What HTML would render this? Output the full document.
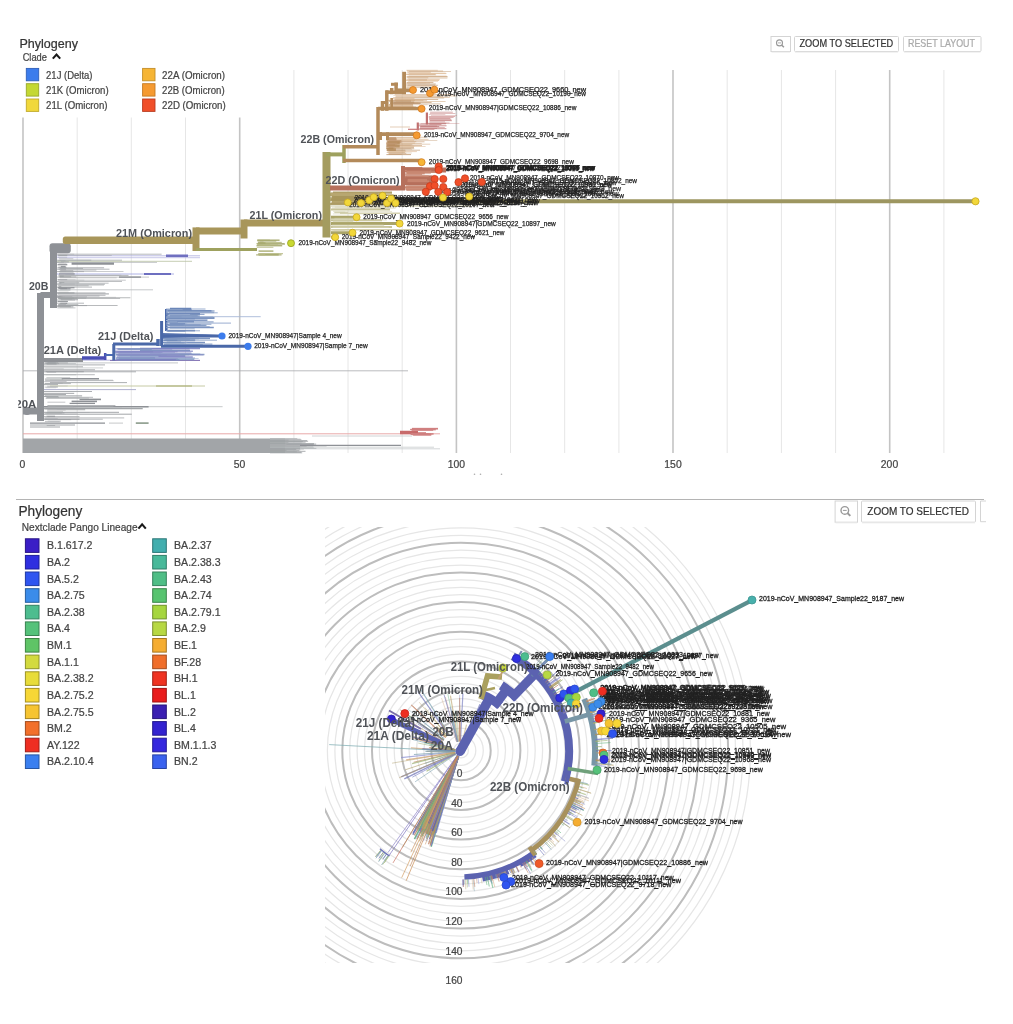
<!DOCTYPE html>
<html><head><meta charset="utf-8"><style>
html,body{margin:0;padding:0;background:#fff;width:1013px;height:1024px;overflow:hidden;position:relative}
svg text{font-family:"Liberation Sans",sans-serif}
svg{filter:blur(0.45px)}
</style></head><body>
<svg width="1013" height="1024" viewBox="0 0 1013 1024" style="position:absolute;left:0;top:0">
<line x1="23" y1="70" x2="23" y2="453" stroke="#c4c4c4" stroke-width="1.6"/>
<line x1="77.2" y1="70" x2="77.2" y2="453" stroke="#e6e6e6" stroke-width="1"/>
<line x1="131.3" y1="70" x2="131.3" y2="453" stroke="#e6e6e6" stroke-width="1"/>
<line x1="185.5" y1="70" x2="185.5" y2="453" stroke="#e6e6e6" stroke-width="1"/>
<line x1="239.7" y1="70" x2="239.7" y2="453" stroke="#c4c4c4" stroke-width="1.6"/>
<line x1="293.9" y1="70" x2="293.9" y2="453" stroke="#e6e6e6" stroke-width="1"/>
<line x1="348" y1="70" x2="348" y2="453" stroke="#e6e6e6" stroke-width="1"/>
<line x1="402.2" y1="70" x2="402.2" y2="453" stroke="#e6e6e6" stroke-width="1"/>
<line x1="456.4" y1="70" x2="456.4" y2="453" stroke="#c4c4c4" stroke-width="1.6"/>
<line x1="510.5" y1="70" x2="510.5" y2="453" stroke="#e6e6e6" stroke-width="1"/>
<line x1="564.7" y1="70" x2="564.7" y2="453" stroke="#e6e6e6" stroke-width="1"/>
<line x1="618.9" y1="70" x2="618.9" y2="453" stroke="#e6e6e6" stroke-width="1"/>
<line x1="673" y1="70" x2="673" y2="453" stroke="#c4c4c4" stroke-width="1.6"/>
<line x1="727.2" y1="70" x2="727.2" y2="453" stroke="#e6e6e6" stroke-width="1"/>
<line x1="781.4" y1="70" x2="781.4" y2="453" stroke="#e6e6e6" stroke-width="1"/>
<line x1="835.6" y1="70" x2="835.6" y2="453" stroke="#e6e6e6" stroke-width="1"/>
<line x1="889.7" y1="70" x2="889.7" y2="453" stroke="#c4c4c4" stroke-width="1.6"/>
<line x1="943.9" y1="70" x2="943.9" y2="453" stroke="#e6e6e6" stroke-width="1"/>
<rect x="18" y="66" width="255" height="51.5" fill="#fff"/>
<text x="19.5" y="47.6" font-size="12.8" fill="#333" textLength="58.5" lengthAdjust="spacingAndGlyphs" stroke="#333" stroke-width="0.22">Phylogeny</text>
<text x="22.7" y="61" font-size="10" fill="#444" textLength="24.2" lengthAdjust="spacingAndGlyphs" stroke="#444" stroke-width="0.22">Clade</text>
<path d="M52.8 58.6 L56.5 54.6 L60.2 58.6" fill="none" stroke="#1a1a1a" stroke-width="2.1"/>
<rect x="26.3" y="68.4" width="12.4" height="12.4" fill="#3c7cec" stroke="#2f5fb8" stroke-width="0.9"/>
<text x="46.1" y="78.5" font-size="10.2" fill="#444" textLength="46.4" lengthAdjust="spacingAndGlyphs" stroke="#444" stroke-width="0.22">21J (Delta)</text>
<rect x="26.3" y="83.7" width="12.4" height="12.4" fill="#c4d833" stroke="#98a82a" stroke-width="0.9"/>
<text x="46.1" y="93.8" font-size="10.2" fill="#444" textLength="62.5" lengthAdjust="spacingAndGlyphs" stroke="#444" stroke-width="0.22">21K (Omicron)</text>
<rect x="26.3" y="99" width="12.4" height="12.4" fill="#f1d83b" stroke="#c0aa2a" stroke-width="0.9"/>
<text x="46.1" y="109.1" font-size="10.2" fill="#444" textLength="61.4" lengthAdjust="spacingAndGlyphs" stroke="#444" stroke-width="0.22">21L (Omicron)</text>
<rect x="142.6" y="68.4" width="12.4" height="12.4" fill="#f6b535" stroke="#c48e28" stroke-width="0.9"/>
<text x="162.1" y="78.5" font-size="10.2" fill="#444" textLength="62.9" lengthAdjust="spacingAndGlyphs" stroke="#444" stroke-width="0.22">22A (Omicron)</text>
<rect x="142.6" y="83.7" width="12.4" height="12.4" fill="#f59a31" stroke="#c47a25" stroke-width="0.9"/>
<text x="162.1" y="93.8" font-size="10.2" fill="#444" textLength="62.5" lengthAdjust="spacingAndGlyphs" stroke="#444" stroke-width="0.22">22B (Omicron)</text>
<rect x="142.6" y="99" width="12.4" height="12.4" fill="#f04f29" stroke="#b83b20" stroke-width="0.9"/>
<text x="162.1" y="109.1" font-size="10.2" fill="#444" textLength="63.6" lengthAdjust="spacingAndGlyphs" stroke="#444" stroke-width="0.22">22D (Omicron)</text>
<rect x="771" y="36.5" width="19.5" height="15" fill="#fff" stroke="#d4d4d4" stroke-width="1"/>
<line x1="771.5" y1="52.2" x2="790" y2="52.2" stroke="#ececec" stroke-width="1"/>
<circle cx="779.5" cy="42.9" r="3" fill="none" stroke="#999" stroke-width="1.1"/>
<line x1="781.6" y1="45" x2="783.9" y2="47.3" stroke="#999" stroke-width="1.5"/>
<line x1="778" y1="42.9" x2="781" y2="42.9" stroke="#999" stroke-width="0.8"/>
<rect x="794.5" y="36.5" width="104" height="15" fill="#fff" stroke="#d4d4d4" stroke-width="1" rx="1"/>
<line x1="795" y1="52.2" x2="898" y2="52.2" stroke="#ececec" stroke-width="1"/>
<text x="799.5" y="47.2" font-size="10.4" fill="#333" textLength="93.7" lengthAdjust="spacingAndGlyphs" stroke="#333" stroke-width="0.22">ZOOM TO SELECTED</text>
<rect x="903.5" y="36.5" width="77.5" height="15" fill="#fff" stroke="#d4d4d4" stroke-width="1" rx="1"/>
<line x1="904" y1="52.2" x2="980.5" y2="52.2" stroke="#ececec" stroke-width="1"/>
<text x="908" y="47.2" font-size="10.4" fill="#aaa" textLength="67" lengthAdjust="spacingAndGlyphs" stroke="#aaa" stroke-width="0.22">RESET LAYOUT</text>
<rect x="23" y="438.5" width="262" height="14.5" fill="#a2a5a8"/>
<line x1="270" y1="438.7" x2="297.3" y2="438.7" stroke="#b2b5b8" stroke-width="0.9"/>
<line x1="270" y1="439.2" x2="300.5" y2="439.2" stroke="#b2b5b8" stroke-width="0.9"/>
<line x1="270" y1="439.7" x2="301.4" y2="439.7" stroke="#b2b5b8" stroke-width="0.9"/>
<line x1="270" y1="440.2" x2="288.6" y2="440.2" stroke="#a2a5a8" stroke-width="0.9"/>
<line x1="270" y1="440.7" x2="307" y2="440.7" stroke="#a2a5a8" stroke-width="0.9"/>
<line x1="270" y1="441.2" x2="308.1" y2="441.2" stroke="#a2a5a8" stroke-width="0.9"/>
<line x1="270" y1="441.6" x2="302.9" y2="441.6" stroke="#a2a5a8" stroke-width="0.9"/>
<line x1="270" y1="442.1" x2="305.6" y2="442.1" stroke="#a2a5a8" stroke-width="0.9"/>
<line x1="270" y1="442.6" x2="288.4" y2="442.6" stroke="#a2a5a8" stroke-width="0.9"/>
<line x1="270" y1="443.1" x2="301.6" y2="443.1" stroke="#b2b5b8" stroke-width="0.9"/>
<line x1="270" y1="443.6" x2="314" y2="443.6" stroke="#a2a5a8" stroke-width="0.9"/>
<line x1="270" y1="444.1" x2="316.2" y2="444.1" stroke="#a2a5a8" stroke-width="0.9"/>
<line x1="270" y1="444.5" x2="313.8" y2="444.5" stroke="#a2a5a8" stroke-width="0.9"/>
<line x1="270" y1="445" x2="286.6" y2="445" stroke="#b2b5b8" stroke-width="0.9"/>
<line x1="270" y1="445.5" x2="303.4" y2="445.5" stroke="#a2a5a8" stroke-width="0.9"/>
<line x1="270" y1="446" x2="326.6" y2="446" stroke="#b2b5b8" stroke-width="0.9"/>
<line x1="270" y1="446.5" x2="306.7" y2="446.5" stroke="#b2b5b8" stroke-width="0.9"/>
<line x1="270" y1="447" x2="313.3" y2="447" stroke="#a2a5a8" stroke-width="0.9"/>
<line x1="270" y1="447.4" x2="301.6" y2="447.4" stroke="#b2b5b8" stroke-width="0.9"/>
<line x1="270" y1="447.9" x2="314.1" y2="447.9" stroke="#b2b5b8" stroke-width="0.9"/>
<line x1="270" y1="448.4" x2="316.4" y2="448.4" stroke="#a2a5a8" stroke-width="0.9"/>
<line x1="270" y1="448.9" x2="303.9" y2="448.9" stroke="#a2a5a8" stroke-width="0.9"/>
<line x1="270" y1="449.4" x2="296.3" y2="449.4" stroke="#a2a5a8" stroke-width="0.9"/>
<line x1="270" y1="449.9" x2="300.3" y2="449.9" stroke="#a2a5a8" stroke-width="0.9"/>
<line x1="270" y1="450.3" x2="286.5" y2="450.3" stroke="#a2a5a8" stroke-width="0.9"/>
<line x1="270" y1="450.8" x2="299.2" y2="450.8" stroke="#a2a5a8" stroke-width="0.9"/>
<line x1="270" y1="451.3" x2="305.5" y2="451.3" stroke="#a2a5a8" stroke-width="0.9"/>
<line x1="270" y1="451.8" x2="296.8" y2="451.8" stroke="#a2a5a8" stroke-width="0.9"/>
<line x1="270" y1="452.3" x2="301.1" y2="452.3" stroke="#a2a5a8" stroke-width="0.9"/>
<line x1="270" y1="452.8" x2="302.2" y2="452.8" stroke="#a2a5a8" stroke-width="0.9"/>
<line x1="312" y1="436" x2="412" y2="436" stroke="#c4c6c9" stroke-width="0.8"/>
<line x1="300" y1="445.4" x2="401" y2="445.4" stroke="#8e9196" stroke-width="1.2"/>
<line x1="300" y1="447.2" x2="434" y2="447.2" stroke="#c8cacd" stroke-width="0.8"/>
<line x1="300" y1="448.8" x2="440" y2="448.8" stroke="#c8cacd" stroke-width="0.8"/>
<line x1="23" y1="433.8" x2="440" y2="433.8" stroke="#e8a8a8" stroke-width="1"/>
<line x1="400" y1="432.5" x2="418" y2="432.5" stroke="#c86b6b" stroke-width="3.5"/>
<line x1="411.5" y1="430" x2="433.2" y2="430" stroke="#d08080" stroke-width="1.6" opacity="1"/>
<line x1="413.3" y1="428.9" x2="425.2" y2="428.9" stroke="#d08080" stroke-width="1.5" opacity="1"/>
<line x1="412.2" y1="429.7" x2="435.8" y2="429.7" stroke="#d08080" stroke-width="1.3" opacity="1"/>
<line x1="410.6" y1="434.1" x2="428.5" y2="434.1" stroke="#d08080" stroke-width="1.7" opacity="1"/>
<line x1="413" y1="432.9" x2="426" y2="432.9" stroke="#c86b6b" stroke-width="1.2" opacity="1"/>
<line x1="411.9" y1="428.7" x2="438" y2="428.7" stroke="#d08080" stroke-width="1.7" opacity="1"/>
<line x1="413.2" y1="434.5" x2="430.9" y2="434.5" stroke="#d08080" stroke-width="2" opacity="1"/>
<line x1="410.1" y1="429.4" x2="430.5" y2="429.4" stroke="#d08080" stroke-width="1.1" opacity="1"/>
<line x1="412.5" y1="434.8" x2="431.5" y2="434.8" stroke="#d08080" stroke-width="1.3" opacity="1"/>
<line x1="412.1" y1="433.9" x2="433.6" y2="433.9" stroke="#d08080" stroke-width="1.5" opacity="1"/>
<line x1="23" y1="370.8" x2="408" y2="370.8" stroke="#a8abae" stroke-width="0.8"/>
<line x1="44" y1="360" x2="83" y2="360" stroke="#8e9196" stroke-width="3"/>
<line x1="83" y1="360.2" x2="200" y2="360.2" stroke="#a8a8d8" stroke-width="0.8"/>
<line x1="44" y1="362.9" x2="178" y2="362.9" stroke="#b8babd" stroke-width="0.8"/>
<line x1="44" y1="364.9" x2="105" y2="364.9" stroke="#a3a6a9" stroke-width="0.9"/>
<line x1="44" y1="366.8" x2="83" y2="366.8" stroke="#a3a6a9" stroke-width="0.9"/>
<line x1="44" y1="369.8" x2="95" y2="369.8" stroke="#a3a6a9" stroke-width="0.9"/>
<line x1="44" y1="371.8" x2="136" y2="371.8" stroke="#a3a6a9" stroke-width="0.9"/>
<line x1="44" y1="374.7" x2="76" y2="374.7" stroke="#a3a6a9" stroke-width="0.9"/>
<line x1="61.7" y1="378.7" x2="99" y2="378.7" stroke="#8e9196" stroke-width="1.6"/>
<line x1="50" y1="380.3" x2="113" y2="380.3" stroke="#a3a6a9" stroke-width="0.9"/>
<line x1="50" y1="382.6" x2="127" y2="382.6" stroke="#a3a6a9" stroke-width="0.9"/>
<line x1="44" y1="384.6" x2="58" y2="384.6" stroke="#a3a6a9" stroke-width="0.9"/>
<line x1="50" y1="386" x2="205" y2="386" stroke="#c0c49a" stroke-width="0.9"/>
<line x1="156" y1="386" x2="192" y2="386" stroke="#a8ac70" stroke-width="1.2"/>
<line x1="44" y1="389.6" x2="136" y2="389.6" stroke="#a6a8c8" stroke-width="0.9"/>
<line x1="44" y1="391.5" x2="92" y2="391.5" stroke="#a3a6a9" stroke-width="0.9"/>
<line x1="44" y1="394.5" x2="66" y2="394.5" stroke="#a3a6a9" stroke-width="0.9"/>
<line x1="44" y1="396.5" x2="58" y2="396.5" stroke="#a3a6a9" stroke-width="0.9"/>
<line x1="79.5" y1="399.4" x2="101" y2="399.4" stroke="#8e9196" stroke-width="1.6"/>
<line x1="71.6" y1="401.4" x2="97" y2="401.4" stroke="#8e9196" stroke-width="1.6"/>
<line x1="69.6" y1="403.4" x2="95" y2="403.4" stroke="#8e9196" stroke-width="1.3"/>
<line x1="44" y1="406.7" x2="222.6" y2="406.7" stroke="#b8babd" stroke-width="0.8"/>
<line x1="44" y1="406.7" x2="148.6" y2="406.7" stroke="#8e9196" stroke-width="1.6"/>
<line x1="44" y1="408.7" x2="142.7" y2="408.7" stroke="#a3a6a9" stroke-width="1.2"/>
<line x1="44" y1="412.3" x2="119" y2="412.3" stroke="#a3a6a9" stroke-width="1"/>
<line x1="44" y1="414.2" x2="131.8" y2="414.2" stroke="#a3a6a9" stroke-width="1"/>
<line x1="44" y1="416.8" x2="79.5" y2="416.8" stroke="#a3a6a9" stroke-width="1"/>
<line x1="44" y1="419.2" x2="79.5" y2="419.2" stroke="#a3a6a9" stroke-width="1"/>
<line x1="30" y1="423.1" x2="105" y2="423.1" stroke="#8e9196" stroke-width="1.2"/>
<line x1="109" y1="423.1" x2="123" y2="423.1" stroke="#b8babd" stroke-width="0.8"/>
<line x1="135.8" y1="423.1" x2="148.6" y2="423.1" stroke="#8a9a8a" stroke-width="1.6"/>
<line x1="30" y1="425" x2="75" y2="425" stroke="#a3a6a9" stroke-width="1"/>
<line x1="30" y1="427" x2="60" y2="427" stroke="#a3a6a9" stroke-width="1"/>
<line x1="44.7" y1="387.1" x2="57.8" y2="387.1" stroke="#b8babd" stroke-width="1" opacity="0.8"/>
<line x1="45.5" y1="407.5" x2="74" y2="407.5" stroke="#9c9fa3" stroke-width="1.1" opacity="0.8"/>
<line x1="48" y1="362.6" x2="58.3" y2="362.6" stroke="#a3a6a9" stroke-width="0.9" opacity="0.8"/>
<line x1="46.9" y1="372.2" x2="56.1" y2="372.2" stroke="#a3a6a9" stroke-width="0.8" opacity="0.8"/>
<line x1="44.5" y1="407.6" x2="76.4" y2="407.6" stroke="#9c9fa3" stroke-width="0.6" opacity="0.8"/>
<line x1="44.9" y1="419.2" x2="102.8" y2="419.2" stroke="#9c9fa3" stroke-width="0.9" opacity="0.8"/>
<line x1="44.1" y1="393.4" x2="74.2" y2="393.4" stroke="#a3a6a9" stroke-width="1.2" opacity="0.8"/>
<line x1="44.2" y1="407.5" x2="122" y2="407.5" stroke="#b8babd" stroke-width="0.8" opacity="0.8"/>
<line x1="45.7" y1="363.7" x2="75.9" y2="363.7" stroke="#a3a6a9" stroke-width="0.8" opacity="0.8"/>
<line x1="45.6" y1="371.6" x2="83.8" y2="371.6" stroke="#9c9fa3" stroke-width="1.1" opacity="0.8"/>
<line x1="44.3" y1="418.7" x2="57.8" y2="418.7" stroke="#a3a6a9" stroke-width="0.9" opacity="0.8"/>
<line x1="47" y1="410.1" x2="65.7" y2="410.1" stroke="#9c9fa3" stroke-width="0.6" opacity="0.8"/>
<line x1="44.7" y1="362.9" x2="67.9" y2="362.9" stroke="#a3a6a9" stroke-width="1.1" opacity="0.8"/>
<line x1="47.4" y1="409.5" x2="85.2" y2="409.5" stroke="#a3a6a9" stroke-width="1.3" opacity="0.8"/>
<line x1="45.7" y1="408.5" x2="109.8" y2="408.5" stroke="#9c9fa3" stroke-width="1.1" opacity="0.8"/>
<line x1="47.4" y1="402.2" x2="65.3" y2="402.2" stroke="#a3a6a9" stroke-width="0.8" opacity="0.8"/>
<line x1="46.9" y1="386" x2="67.7" y2="386" stroke="#b8babd" stroke-width="0.7" opacity="0.8"/>
<line x1="47.7" y1="406.1" x2="73.2" y2="406.1" stroke="#a3a6a9" stroke-width="0.8" opacity="0.8"/>
<line x1="47.7" y1="421.2" x2="60.9" y2="421.2" stroke="#b8babd" stroke-width="1.2" opacity="0.8"/>
<line x1="44.3" y1="381.5" x2="66.6" y2="381.5" stroke="#9c9fa3" stroke-width="0.7" opacity="0.8"/>
<line x1="46.7" y1="364" x2="56.6" y2="364" stroke="#a3a6a9" stroke-width="1.3" opacity="0.8"/>
<line x1="46" y1="398.1" x2="79.7" y2="398.1" stroke="#a3a6a9" stroke-width="0.8" opacity="0.8"/>
<line x1="48" y1="406.6" x2="55.6" y2="406.6" stroke="#9c9fa3" stroke-width="1.1" opacity="0.8"/>
<line x1="45.6" y1="374.7" x2="94.8" y2="374.7" stroke="#b8babd" stroke-width="1.2" opacity="0.8"/>
<line x1="46.4" y1="416.2" x2="55" y2="416.2" stroke="#a3a6a9" stroke-width="1" opacity="0.8"/>
<line x1="44.7" y1="395.9" x2="82.1" y2="395.9" stroke="#9c9fa3" stroke-width="1.3" opacity="0.8"/>
<line x1="46.7" y1="425.5" x2="55.1" y2="425.5" stroke="#9c9fa3" stroke-width="0.8" opacity="0.8"/>
<line x1="47.6" y1="407" x2="113.5" y2="407" stroke="#b8babd" stroke-width="0.8" opacity="0.8"/>
<line x1="44.9" y1="379.1" x2="63.3" y2="379.1" stroke="#a3a6a9" stroke-width="1.2" opacity="0.8"/>
<line x1="45.2" y1="380.4" x2="76.7" y2="380.4" stroke="#b8babd" stroke-width="1.1" opacity="0.8"/>
<line x1="46.4" y1="377.8" x2="70.2" y2="377.8" stroke="#a3a6a9" stroke-width="0.9" opacity="0.8"/>
<line x1="45" y1="421.6" x2="59.6" y2="421.6" stroke="#b8babd" stroke-width="1.3" opacity="0.8"/>
<line x1="47.3" y1="416.5" x2="55.1" y2="416.5" stroke="#9c9fa3" stroke-width="1.2" opacity="0.8"/>
<line x1="46.5" y1="397.3" x2="93" y2="397.3" stroke="#b8babd" stroke-width="1.2" opacity="0.8"/>
<line x1="44.7" y1="383.3" x2="62.7" y2="383.3" stroke="#a3a6a9" stroke-width="0.8" opacity="0.8"/>
<line x1="44.6" y1="419.6" x2="71.2" y2="419.6" stroke="#9c9fa3" stroke-width="1" opacity="0.8"/>
<line x1="47.4" y1="386.8" x2="57.9" y2="386.8" stroke="#9c9fa3" stroke-width="0.6" opacity="0.8"/>
<line x1="45.5" y1="412.6" x2="89.7" y2="412.6" stroke="#a3a6a9" stroke-width="0.6" opacity="0.8"/>
<line x1="44.7" y1="383.6" x2="70.9" y2="383.6" stroke="#a3a6a9" stroke-width="1" opacity="0.8"/>
<line x1="44.7" y1="409.6" x2="56.8" y2="409.6" stroke="#b8babd" stroke-width="0.7" opacity="0.8"/>
<line x1="47.4" y1="405.5" x2="115.4" y2="405.5" stroke="#a3a6a9" stroke-width="1.1" opacity="0.8"/>
<line x1="44.3" y1="369" x2="63.8" y2="369" stroke="#b8babd" stroke-width="1.1" opacity="0.8"/>
<line x1="47.2" y1="411.7" x2="63" y2="411.7" stroke="#a3a6a9" stroke-width="0.7" opacity="0.8"/>
<line x1="45.8" y1="387.7" x2="56.2" y2="387.7" stroke="#b8babd" stroke-width="0.7" opacity="0.8"/>
<line x1="45.3" y1="367.9" x2="103.1" y2="367.9" stroke="#b8babd" stroke-width="0.8" opacity="0.8"/>
<line x1="45.7" y1="363" x2="55.1" y2="363" stroke="#9c9fa3" stroke-width="0.7" opacity="0.8"/>
<line x1="46.9" y1="363" x2="56.1" y2="363" stroke="#9c9fa3" stroke-width="1.2" opacity="0.8"/>
<line x1="44.7" y1="413.5" x2="61.8" y2="413.5" stroke="#b8babd" stroke-width="1.1" opacity="0.8"/>
<line x1="46.6" y1="413" x2="64.5" y2="413" stroke="#9c9fa3" stroke-width="1.1" opacity="0.8"/>
<line x1="46.8" y1="397.1" x2="59" y2="397.1" stroke="#a3a6a9" stroke-width="1.2" opacity="0.8"/>
<line x1="44.2" y1="363.7" x2="59.1" y2="363.7" stroke="#9c9fa3" stroke-width="0.8" opacity="0.8"/>
<line x1="45.2" y1="380.7" x2="114.1" y2="380.7" stroke="#b8babd" stroke-width="0.7" opacity="0.8"/>
<line x1="45.2" y1="417.8" x2="124.2" y2="417.8" stroke="#b8babd" stroke-width="1.2" opacity="0.8"/>
<line x1="45.5" y1="398.1" x2="88.9" y2="398.1" stroke="#a3a6a9" stroke-width="0.9" opacity="0.8"/>
<line x1="46.7" y1="414" x2="77.7" y2="414" stroke="#b8babd" stroke-width="1.1" opacity="0.8"/>
<line x1="57" y1="254.2" x2="161.6" y2="254.2" stroke="#a3a6a9" stroke-width="0.8"/>
<line x1="57" y1="255.8" x2="200" y2="255.8" stroke="#a0a0d8" stroke-width="0.7"/>
<line x1="166" y1="255.8" x2="188" y2="255.8" stroke="#6f6fc0" stroke-width="2.6"/>
<line x1="57" y1="257.7" x2="200" y2="257.7" stroke="#b0b0e0" stroke-width="0.7"/>
<line x1="57" y1="260.2" x2="122" y2="260.2" stroke="#a3a6a9" stroke-width="0.8"/>
<line x1="57" y1="261.3" x2="192" y2="261.3" stroke="#b8c0a0" stroke-width="0.8"/>
<line x1="57" y1="262.4" x2="157" y2="262.4" stroke="#b8babd" stroke-width="0.8"/>
<line x1="71.6" y1="263.7" x2="114" y2="263.7" stroke="#8e9196" stroke-width="2.2"/>
<line x1="57" y1="269.2" x2="109.5" y2="269.2" stroke="#a3a6a9" stroke-width="0.8"/>
<line x1="57" y1="271.6" x2="84" y2="271.6" stroke="#a3a6a9" stroke-width="0.8"/>
<line x1="57" y1="274" x2="174" y2="274" stroke="#9a9ee0" stroke-width="0.8"/>
<line x1="144" y1="274" x2="171" y2="274" stroke="#6d6fc0" stroke-width="2"/>
<line x1="57" y1="277.1" x2="149" y2="277.1" stroke="#b8babd" stroke-width="0.8"/>
<line x1="119" y1="277.1" x2="141" y2="277.1" stroke="#8e9196" stroke-width="1.4"/>
<line x1="57" y1="281.4" x2="122" y2="281.4" stroke="#a3a6a9" stroke-width="0.8"/>
<line x1="57" y1="284.2" x2="105" y2="284.2" stroke="#a3a6a9" stroke-width="0.8"/>
<line x1="57" y1="287.1" x2="92" y2="287.1" stroke="#a3a6a9" stroke-width="0.8"/>
<line x1="57" y1="289.8" x2="153" y2="289.8" stroke="#b8babd" stroke-width="0.8"/>
<line x1="57" y1="292.9" x2="105.5" y2="292.9" stroke="#a3a6a9" stroke-width="0.8"/>
<line x1="57" y1="295.3" x2="105.5" y2="295.3" stroke="#a3a6a9" stroke-width="0.8"/>
<line x1="57" y1="296.9" x2="87" y2="296.9" stroke="#a3a6a9" stroke-width="0.8"/>
<line x1="57" y1="300" x2="75" y2="300" stroke="#a3a6a9" stroke-width="0.8"/>
<line x1="57" y1="303.2" x2="84" y2="303.2" stroke="#a3a6a9" stroke-width="0.8"/>
<line x1="57" y1="306.3" x2="70" y2="306.3" stroke="#a3a6a9" stroke-width="0.8"/>
<line x1="58.9" y1="296.8" x2="72.3" y2="296.8" stroke="#a3a6a9" stroke-width="0.8" opacity="0.9"/>
<line x1="60.9" y1="261.9" x2="68.8" y2="261.9" stroke="#a3a6a9" stroke-width="1.1" opacity="0.9"/>
<line x1="57.8" y1="255.2" x2="67.3" y2="255.2" stroke="#a3a6a9" stroke-width="1.5" opacity="0.9"/>
<line x1="59.3" y1="283.1" x2="61.4" y2="283.1" stroke="#a3a6a9" stroke-width="1.3" opacity="0.9"/>
<line x1="58.7" y1="286.9" x2="61.3" y2="286.9" stroke="#8e9196" stroke-width="1.1" opacity="0.9"/>
<line x1="59.8" y1="276.1" x2="63.8" y2="276.1" stroke="#8e9196" stroke-width="1.4" opacity="0.9"/>
<line x1="57.2" y1="297" x2="61.5" y2="297" stroke="#8e9196" stroke-width="1.5" opacity="0.9"/>
<line x1="60.3" y1="303.3" x2="67.3" y2="303.3" stroke="#8e9196" stroke-width="1.2" opacity="0.9"/>
<line x1="60.2" y1="288.8" x2="70.5" y2="288.8" stroke="#8e9196" stroke-width="1.3" opacity="0.9"/>
<line x1="58.4" y1="267.2" x2="66.4" y2="267.2" stroke="#8e9196" stroke-width="0.9" opacity="0.9"/>
<line x1="57.5" y1="301.5" x2="67.9" y2="301.5" stroke="#a3a6a9" stroke-width="1" opacity="0.9"/>
<line x1="57.6" y1="264.6" x2="67.3" y2="264.6" stroke="#8e9196" stroke-width="1.5" opacity="0.9"/>
<line x1="57.8" y1="301.3" x2="67.8" y2="301.3" stroke="#8e9196" stroke-width="0.8" opacity="0.9"/>
<line x1="59.5" y1="272" x2="73.6" y2="272" stroke="#a3a6a9" stroke-width="1.1" opacity="0.9"/>
<line x1="59.7" y1="282.5" x2="64.3" y2="282.5" stroke="#a3a6a9" stroke-width="0.8" opacity="0.9"/>
<line x1="58.6" y1="276.8" x2="71.2" y2="276.8" stroke="#a3a6a9" stroke-width="1" opacity="0.9"/>
<line x1="59.7" y1="306.9" x2="73.4" y2="306.9" stroke="#a3a6a9" stroke-width="1.2" opacity="0.9"/>
<line x1="59.1" y1="298.9" x2="71.9" y2="298.9" stroke="#a3a6a9" stroke-width="1" opacity="0.9"/>
<line x1="57.8" y1="298.1" x2="74.1" y2="298.1" stroke="#a3a6a9" stroke-width="1.2" opacity="0.9"/>
<line x1="57.1" y1="293" x2="74.5" y2="293" stroke="#8e9196" stroke-width="1" opacity="0.9"/>
<line x1="59" y1="297.3" x2="62.8" y2="297.3" stroke="#a3a6a9" stroke-width="1.5" opacity="0.9"/>
<line x1="60.5" y1="267.8" x2="66.2" y2="267.8" stroke="#a3a6a9" stroke-width="1" opacity="0.9"/>
<line x1="57.6" y1="279.6" x2="67.2" y2="279.6" stroke="#a3a6a9" stroke-width="1.2" opacity="0.9"/>
<line x1="58.5" y1="288.3" x2="67" y2="288.3" stroke="#8e9196" stroke-width="1.6" opacity="0.9"/>
<line x1="59.4" y1="303.8" x2="65.6" y2="303.8" stroke="#a3a6a9" stroke-width="1.3" opacity="0.9"/>
<line x1="57.6" y1="306.7" x2="70.9" y2="306.7" stroke="#a3a6a9" stroke-width="1.2" opacity="0.9"/>
<line x1="57.7" y1="287.7" x2="74.5" y2="287.7" stroke="#8e9196" stroke-width="1.3" opacity="0.9"/>
<line x1="59" y1="274" x2="74.7" y2="274" stroke="#8e9196" stroke-width="1.5" opacity="0.9"/>
<line x1="57.1" y1="262.3" x2="64" y2="262.3" stroke="#a3a6a9" stroke-width="0.9" opacity="0.9"/>
<line x1="60.8" y1="266.5" x2="65.6" y2="266.5" stroke="#8e9196" stroke-width="1.3" opacity="0.9"/>
<line x1="60.2" y1="280.2" x2="84.3" y2="280.2" stroke="#b8babd" stroke-width="0.8" opacity="0.8"/>
<line x1="58.4" y1="297.2" x2="65" y2="297.2" stroke="#a3a6a9" stroke-width="0.8" opacity="0.8"/>
<line x1="59.5" y1="271.1" x2="66.4" y2="271.1" stroke="#9c9fa3" stroke-width="1" opacity="0.8"/>
<line x1="58.7" y1="287.9" x2="71.4" y2="287.9" stroke="#a3a6a9" stroke-width="0.7" opacity="0.8"/>
<line x1="60" y1="275.2" x2="121.3" y2="275.2" stroke="#b8babd" stroke-width="0.9" opacity="0.8"/>
<line x1="60.3" y1="270.5" x2="73" y2="270.5" stroke="#9c9fa3" stroke-width="0.7" opacity="0.8"/>
<line x1="58.6" y1="292.2" x2="68.6" y2="292.2" stroke="#a3a6a9" stroke-width="0.7" opacity="0.8"/>
<line x1="59.2" y1="282.8" x2="79.2" y2="282.8" stroke="#a3a6a9" stroke-width="1.1" opacity="0.8"/>
<line x1="57.4" y1="307.9" x2="75.5" y2="307.9" stroke="#b8babd" stroke-width="1" opacity="0.8"/>
<line x1="58.4" y1="274.7" x2="65.6" y2="274.7" stroke="#b8babd" stroke-width="0.6" opacity="0.8"/>
<line x1="58.6" y1="279.8" x2="75.5" y2="279.8" stroke="#a3a6a9" stroke-width="0.6" opacity="0.8"/>
<line x1="58.2" y1="280.2" x2="125.8" y2="280.2" stroke="#b8babd" stroke-width="1" opacity="0.8"/>
<line x1="58.5" y1="275.4" x2="128.5" y2="275.4" stroke="#a3a6a9" stroke-width="1" opacity="0.8"/>
<line x1="60.3" y1="298.4" x2="120.1" y2="298.4" stroke="#9c9fa3" stroke-width="0.9" opacity="0.8"/>
<line x1="59.8" y1="277.8" x2="116.7" y2="277.8" stroke="#a3a6a9" stroke-width="0.7" opacity="0.8"/>
<line x1="59.6" y1="254.3" x2="74.2" y2="254.3" stroke="#b8babd" stroke-width="1.1" opacity="0.8"/>
<line x1="58.9" y1="284.2" x2="74.8" y2="284.2" stroke="#b8babd" stroke-width="1.1" opacity="0.8"/>
<line x1="58.8" y1="263" x2="66.4" y2="263" stroke="#b8babd" stroke-width="1.1" opacity="0.8"/>
<line x1="57.4" y1="305.6" x2="87" y2="305.6" stroke="#9c9fa3" stroke-width="1" opacity="0.8"/>
<line x1="57.7" y1="260.8" x2="65.5" y2="260.8" stroke="#a3a6a9" stroke-width="0.9" opacity="0.8"/>
<line x1="59.6" y1="276.9" x2="76.3" y2="276.9" stroke="#9c9fa3" stroke-width="0.9" opacity="0.8"/>
<line x1="59.1" y1="296" x2="99.5" y2="296" stroke="#a3a6a9" stroke-width="1.1" opacity="0.8"/>
<line x1="59.6" y1="297.3" x2="116" y2="297.3" stroke="#b8babd" stroke-width="0.7" opacity="0.8"/>
<line x1="59.4" y1="260.2" x2="91.3" y2="260.2" stroke="#a3a6a9" stroke-width="0.9" opacity="0.8"/>
<line x1="58.3" y1="305.5" x2="117.6" y2="305.5" stroke="#9c9fa3" stroke-width="0.9" opacity="0.8"/>
<line x1="58.2" y1="304.6" x2="78.3" y2="304.6" stroke="#a3a6a9" stroke-width="0.9" opacity="0.8"/>
<line x1="59.7" y1="268.4" x2="83" y2="268.4" stroke="#a3a6a9" stroke-width="1" opacity="0.8"/>
<line x1="60.7" y1="270.1" x2="96.4" y2="270.1" stroke="#a3a6a9" stroke-width="0.8" opacity="0.8"/>
<line x1="57.6" y1="285" x2="104" y2="285" stroke="#a3a6a9" stroke-width="0.9" opacity="0.8"/>
<line x1="57.4" y1="267.8" x2="104.1" y2="267.8" stroke="#9c9fa3" stroke-width="1" opacity="0.8"/>
<line x1="58.9" y1="258.7" x2="73.3" y2="258.7" stroke="#a3a6a9" stroke-width="0.7" opacity="0.8"/>
<line x1="58.1" y1="298.1" x2="77.5" y2="298.1" stroke="#9c9fa3" stroke-width="1.1" opacity="0.8"/>
<line x1="60.7" y1="299.7" x2="78" y2="299.7" stroke="#9c9fa3" stroke-width="1.1" opacity="0.8"/>
<line x1="59.2" y1="255.5" x2="111.8" y2="255.5" stroke="#9c9fa3" stroke-width="0.6" opacity="0.8"/>
<line x1="58.1" y1="304.8" x2="66" y2="304.8" stroke="#a3a6a9" stroke-width="0.8" opacity="0.8"/>
<line x1="58.3" y1="285.8" x2="88.7" y2="285.8" stroke="#9c9fa3" stroke-width="0.9" opacity="0.8"/>
<line x1="60.3" y1="270.8" x2="73.5" y2="270.8" stroke="#b8babd" stroke-width="0.7" opacity="0.8"/>
<line x1="58.8" y1="298.1" x2="86.3" y2="298.1" stroke="#9c9fa3" stroke-width="0.9" opacity="0.8"/>
<line x1="57.6" y1="290.3" x2="70.4" y2="290.3" stroke="#9c9fa3" stroke-width="0.6" opacity="0.8"/>
<line x1="58.5" y1="269.2" x2="66" y2="269.2" stroke="#9c9fa3" stroke-width="1" opacity="0.8"/>
<line x1="57.8" y1="293.8" x2="108.9" y2="293.8" stroke="#9c9fa3" stroke-width="1.2" opacity="0.8"/>
<line x1="57.3" y1="283.2" x2="108.6" y2="283.2" stroke="#a3a6a9" stroke-width="0.9" opacity="0.8"/>
<line x1="58.6" y1="271.6" x2="123.5" y2="271.6" stroke="#a3a6a9" stroke-width="0.8" opacity="0.8"/>
<line x1="57.9" y1="257.2" x2="67.1" y2="257.2" stroke="#a3a6a9" stroke-width="0.7" opacity="0.8"/>
<line x1="58.5" y1="297.8" x2="130.4" y2="297.8" stroke="#a3a6a9" stroke-width="1.1" opacity="0.8"/>
<line x1="165" y1="320" x2="167.6" y2="320" stroke="#4a68a8" stroke-width="1"/>
<path d="M166.3 309 V331" fill="none" stroke="#4a68a8" stroke-width="2.6"/>
<line x1="166" y1="309" x2="205.5" y2="309" stroke="#9aaed0" stroke-width="1"/>
<line x1="170" y1="309" x2="191.3" y2="309" stroke="#6b86b8" stroke-width="2.5"/>
<line x1="166" y1="311" x2="213.8" y2="311" stroke="#9aaed0" stroke-width="1"/>
<line x1="166" y1="312.8" x2="217.7" y2="312.8" stroke="#9aaed0" stroke-width="1"/>
<line x1="166" y1="314" x2="200" y2="314" stroke="#6b86b8" stroke-width="2"/>
<line x1="166" y1="316.7" x2="260.7" y2="316.7" stroke="#a8b8d8" stroke-width="0.9"/>
<line x1="166" y1="318" x2="214.5" y2="318" stroke="#7d95c0" stroke-width="2"/>
<line x1="166" y1="320.5" x2="206.8" y2="320.5" stroke="#9aaed0" stroke-width="1"/>
<line x1="166" y1="323.1" x2="231" y2="323.1" stroke="#9aaed0" stroke-width="1"/>
<line x1="166" y1="325" x2="183.6" y2="325" stroke="#6b86b8" stroke-width="2"/>
<line x1="166" y1="327.6" x2="213.8" y2="327.6" stroke="#7d95c0" stroke-width="1.5"/>
<line x1="166" y1="330.8" x2="200" y2="330.8" stroke="#9aaed0" stroke-width="1"/>
<line x1="163" y1="338.5" x2="210" y2="338.5" stroke="#7d95c0" stroke-width="1.5"/>
<line x1="163" y1="340.2" x2="217" y2="340.2" stroke="#9aaed0" stroke-width="1"/>
<line x1="163" y1="342.4" x2="205" y2="342.4" stroke="#7d95c0" stroke-width="1.5"/>
<line x1="140" y1="348.5" x2="200" y2="348.5" stroke="#8a8fc8" stroke-width="1.5"/>
<line x1="140" y1="350.5" x2="190" y2="350.5" stroke="#7d95c0" stroke-width="1.5"/>
<line x1="120" y1="352" x2="175" y2="352" stroke="#9a9ed8" stroke-width="1"/>
<line x1="150" y1="354" x2="200.3" y2="354" stroke="#9aaed0" stroke-width="1"/>
<line x1="130" y1="356" x2="185" y2="356" stroke="#7a7ec0" stroke-width="1.5"/>
<line x1="150" y1="358" x2="195" y2="358" stroke="#9aaed0" stroke-width="1"/>
<line x1="110" y1="360.5" x2="200" y2="360.5" stroke="#8b7ab8" stroke-width="1.2"/>
<line x1="166" y1="316.1" x2="199.8" y2="316.1" stroke="#6b86b8" stroke-width="1.6" opacity="0.8"/>
<line x1="166.8" y1="331" x2="185.5" y2="331" stroke="#6b86b8" stroke-width="1.4" opacity="0.8"/>
<line x1="168.1" y1="320.1" x2="207.5" y2="320.1" stroke="#7d95c0" stroke-width="1.6" opacity="0.8"/>
<line x1="167.4" y1="316.7" x2="181.7" y2="316.7" stroke="#6b86b8" stroke-width="1.2" opacity="0.8"/>
<line x1="167.3" y1="321.8" x2="213.6" y2="321.8" stroke="#7d95c0" stroke-width="1.2" opacity="0.8"/>
<line x1="166.1" y1="311.1" x2="211.6" y2="311.1" stroke="#9aaed0" stroke-width="0.9" opacity="0.8"/>
<line x1="168" y1="314.4" x2="204.5" y2="314.4" stroke="#7d95c0" stroke-width="1.4" opacity="0.8"/>
<line x1="166.1" y1="314.5" x2="183.3" y2="314.5" stroke="#6b86b8" stroke-width="1" opacity="0.8"/>
<line x1="168" y1="315.5" x2="191.6" y2="315.5" stroke="#9aaed0" stroke-width="1.4" opacity="0.8"/>
<line x1="166.8" y1="316.9" x2="213.2" y2="316.9" stroke="#9aaed0" stroke-width="1" opacity="0.8"/>
<line x1="167.3" y1="321.7" x2="194" y2="321.7" stroke="#6b86b8" stroke-width="1.5" opacity="0.8"/>
<line x1="167" y1="325.5" x2="205.6" y2="325.5" stroke="#9aaed0" stroke-width="1.7" opacity="0.8"/>
<line x1="167.9" y1="309.8" x2="182.6" y2="309.8" stroke="#9aaed0" stroke-width="1.6" opacity="0.8"/>
<line x1="169.8" y1="327" x2="209.7" y2="327" stroke="#7d95c0" stroke-width="1.7" opacity="0.8"/>
<line x1="167.9" y1="330.6" x2="195" y2="330.6" stroke="#6b86b8" stroke-width="1.7" opacity="0.8"/>
<line x1="167.8" y1="311" x2="214.8" y2="311" stroke="#7d95c0" stroke-width="1.2" opacity="0.8"/>
<line x1="168.9" y1="314.7" x2="190" y2="314.7" stroke="#9aaed0" stroke-width="1.3" opacity="0.8"/>
<line x1="169.9" y1="328.1" x2="194.7" y2="328.1" stroke="#7d95c0" stroke-width="1" opacity="0.8"/>
<line x1="170" y1="315.7" x2="197.7" y2="315.7" stroke="#7d95c0" stroke-width="1.5" opacity="0.8"/>
<line x1="167.3" y1="310.1" x2="192" y2="310.1" stroke="#7d95c0" stroke-width="1.4" opacity="0.8"/>
<line x1="168.7" y1="324.2" x2="211.4" y2="324.2" stroke="#9aaed0" stroke-width="1.6" opacity="0.8"/>
<line x1="167.5" y1="322" x2="177" y2="322" stroke="#9aaed0" stroke-width="1.3" opacity="0.8"/>
<line x1="169" y1="322.9" x2="187.3" y2="322.9" stroke="#9aaed0" stroke-width="1.6" opacity="0.8"/>
<line x1="169.3" y1="324.8" x2="200.8" y2="324.8" stroke="#7d95c0" stroke-width="1.1" opacity="0.8"/>
<line x1="169.9" y1="323.8" x2="185.1" y2="323.8" stroke="#6b86b8" stroke-width="1.4" opacity="0.8"/>
<line x1="169.6" y1="322.3" x2="178" y2="322.3" stroke="#7d95c0" stroke-width="1" opacity="0.8"/>
<line x1="168.3" y1="325.4" x2="206.5" y2="325.4" stroke="#7d95c0" stroke-width="1.2" opacity="0.8"/>
<line x1="166.5" y1="318.9" x2="194.9" y2="318.9" stroke="#6b86b8" stroke-width="0.9" opacity="0.8"/>
<line x1="167.8" y1="310.7" x2="211.4" y2="310.7" stroke="#6b86b8" stroke-width="1.4" opacity="0.8"/>
<line x1="169" y1="312.7" x2="214.2" y2="312.7" stroke="#7d95c0" stroke-width="0.9" opacity="0.8"/>
<line x1="167" y1="338.5" x2="198.8" y2="338.5" stroke="#7d95c0" stroke-width="1.5" opacity="0.8"/>
<line x1="165.9" y1="342.3" x2="187.3" y2="342.3" stroke="#9aaed0" stroke-width="0.9" opacity="0.8"/>
<line x1="163.9" y1="344.9" x2="202.8" y2="344.9" stroke="#6b86b8" stroke-width="1.4" opacity="0.8"/>
<line x1="166.2" y1="342.8" x2="183.9" y2="342.8" stroke="#7d95c0" stroke-width="0.9" opacity="0.8"/>
<line x1="165.9" y1="340.1" x2="195.2" y2="340.1" stroke="#7d95c0" stroke-width="1.7" opacity="0.8"/>
<line x1="164.5" y1="339.9" x2="189.8" y2="339.9" stroke="#7d95c0" stroke-width="1.4" opacity="0.8"/>
<line x1="163.7" y1="340.4" x2="194.9" y2="340.4" stroke="#7d95c0" stroke-width="1.7" opacity="0.8"/>
<line x1="166.8" y1="342" x2="181.1" y2="342" stroke="#6b86b8" stroke-width="0.8" opacity="0.8"/>
<line x1="163.3" y1="340.3" x2="177.4" y2="340.3" stroke="#6b86b8" stroke-width="1.1" opacity="0.8"/>
<line x1="166.5" y1="344.8" x2="194.6" y2="344.8" stroke="#9aaed0" stroke-width="1.3" opacity="0.8"/>
<line x1="163.9" y1="344.1" x2="212.4" y2="344.1" stroke="#7d95c0" stroke-width="1.4" opacity="0.8"/>
<line x1="164.3" y1="342.9" x2="185.4" y2="342.9" stroke="#7d95c0" stroke-width="0.9" opacity="0.8"/>
<line x1="117.3" y1="351.6" x2="177.6" y2="351.6" stroke="#7a7ec0" stroke-width="1.1" opacity="0.8"/>
<line x1="117" y1="349" x2="172.2" y2="349" stroke="#7a7ec0" stroke-width="0.9" opacity="0.8"/>
<line x1="115.1" y1="351.3" x2="192.9" y2="351.3" stroke="#8a8fc8" stroke-width="1.4" opacity="0.8"/>
<line x1="115.7" y1="354.5" x2="204.5" y2="354.5" stroke="#7d95c0" stroke-width="1.7" opacity="0.8"/>
<line x1="118.5" y1="355.4" x2="161.1" y2="355.4" stroke="#7d95c0" stroke-width="1.3" opacity="0.8"/>
<line x1="118.8" y1="358.4" x2="198.6" y2="358.4" stroke="#9aaed0" stroke-width="0.8" opacity="0.8"/>
<line x1="118.7" y1="359.3" x2="194.3" y2="359.3" stroke="#7d95c0" stroke-width="1.7" opacity="0.8"/>
<line x1="118.6" y1="359.1" x2="177.8" y2="359.1" stroke="#7a7ec0" stroke-width="0.9" opacity="0.8"/>
<line x1="118.9" y1="358.2" x2="154.5" y2="358.2" stroke="#9aaed0" stroke-width="1.4" opacity="0.8"/>
<line x1="118.6" y1="353.7" x2="192.3" y2="353.7" stroke="#9aaed0" stroke-width="1.1" opacity="0.8"/>
<line x1="115.4" y1="352" x2="153.1" y2="352" stroke="#7a7ec0" stroke-width="1.2" opacity="0.8"/>
<line x1="115.4" y1="348.8" x2="189.5" y2="348.8" stroke="#7a7ec0" stroke-width="1" opacity="0.8"/>
<line x1="116" y1="358.1" x2="155.1" y2="358.1" stroke="#7d95c0" stroke-width="1.6" opacity="0.8"/>
<line x1="116.5" y1="355.1" x2="166.5" y2="355.1" stroke="#8a8fc8" stroke-width="1.5" opacity="0.8"/>
<line x1="118.1" y1="349.1" x2="151.8" y2="349.1" stroke="#7d95c0" stroke-width="1.7" opacity="0.8"/>
<line x1="117.2" y1="359.7" x2="179.4" y2="359.7" stroke="#7d95c0" stroke-width="1.4" opacity="0.8"/>
<line x1="115.2" y1="352.2" x2="162.5" y2="352.2" stroke="#8a8fc8" stroke-width="1" opacity="0.8"/>
<line x1="116.7" y1="357" x2="192.8" y2="357" stroke="#7a7ec0" stroke-width="1.4" opacity="0.8"/>
<line x1="119" y1="356.4" x2="158.5" y2="356.4" stroke="#9aaed0" stroke-width="1.6" opacity="0.8"/>
<line x1="117.6" y1="354.9" x2="203.6" y2="354.9" stroke="#7a7ec0" stroke-width="0.9" opacity="0.8"/>
<line x1="115.4" y1="353" x2="191.4" y2="353" stroke="#7a7ec0" stroke-width="1.1" opacity="0.8"/>
<line x1="118.1" y1="352.9" x2="160.8" y2="352.9" stroke="#8a8fc8" stroke-width="0.9" opacity="0.8"/>
<line x1="115.7" y1="359.6" x2="175.9" y2="359.6" stroke="#7a7ec0" stroke-width="1.1" opacity="0.8"/>
<line x1="116.1" y1="354.8" x2="189.3" y2="354.8" stroke="#7d95c0" stroke-width="0.9" opacity="0.8"/>
<line x1="117.9" y1="354.7" x2="179.6" y2="354.7" stroke="#8a8fc8" stroke-width="1.3" opacity="0.8"/>
<path d="M163 333 L205 334.3 L222 335.3 L205 336.5 L163 338 Z" fill="#4a68a8" opacity="0.9"/>
<line x1="256.5" y1="243.6" x2="284.1" y2="243.6" stroke="#a7aa6e" stroke-width="0.9" opacity="0.9"/>
<line x1="256.8" y1="244" x2="285" y2="244" stroke="#a7aa6e" stroke-width="1.4" opacity="0.9"/>
<line x1="256.8" y1="247.3" x2="273.4" y2="247.3" stroke="#b4b780" stroke-width="0.9" opacity="0.9"/>
<line x1="257.1" y1="243.7" x2="262.5" y2="243.7" stroke="#b4b780" stroke-width="1.4" opacity="0.9"/>
<line x1="258.7" y1="254.6" x2="278.7" y2="254.6" stroke="#a7aa6e" stroke-width="2" opacity="0.9"/>
<line x1="257.5" y1="241" x2="276.3" y2="241" stroke="#a7aa6e" stroke-width="1.2" opacity="0.9"/>
<line x1="258.6" y1="251.1" x2="273.4" y2="251.1" stroke="#a7aa6e" stroke-width="1.5" opacity="0.9"/>
<line x1="259.8" y1="242.3" x2="263.5" y2="242.3" stroke="#b4b780" stroke-width="1.6" opacity="0.9"/>
<line x1="257.8" y1="242.4" x2="281.8" y2="242.4" stroke="#b4b780" stroke-width="1.1" opacity="0.9"/>
<line x1="256.5" y1="245.7" x2="282.2" y2="245.7" stroke="#a7aa6e" stroke-width="1.4" opacity="0.9"/>
<line x1="258.6" y1="245" x2="270.2" y2="245" stroke="#b4b780" stroke-width="1.4" opacity="0.9"/>
<line x1="258.1" y1="243.2" x2="265.5" y2="243.2" stroke="#a7aa6e" stroke-width="1.8" opacity="0.9"/>
<line x1="258.2" y1="253.7" x2="283" y2="253.7" stroke="#b4b780" stroke-width="1.1" opacity="0.9"/>
<line x1="257.1" y1="240.2" x2="269.9" y2="240.2" stroke="#b4b780" stroke-width="1.1" opacity="0.9"/>
<line x1="257.7" y1="244.8" x2="278.2" y2="244.8" stroke="#b4b780" stroke-width="0.9" opacity="0.9"/>
<line x1="256.1" y1="254.9" x2="281.6" y2="254.9" stroke="#a7aa6e" stroke-width="1.2" opacity="0.9"/>
<line x1="257.4" y1="240.2" x2="279.6" y2="240.2" stroke="#a7aa6e" stroke-width="1.5" opacity="0.9"/>
<line x1="258.3" y1="254.5" x2="265.2" y2="254.5" stroke="#b4b780" stroke-width="1.3" opacity="0.9"/>
<line x1="406.4" y1="70.3" x2="437.8" y2="70.3" stroke="#d2ac84" stroke-width="0.7" opacity="0.8"/>
<line x1="407" y1="71" x2="443.1" y2="71" stroke="#d2ac84" stroke-width="0.9" opacity="0.8"/>
<line x1="408.9" y1="71.5" x2="451" y2="71.5" stroke="#bf9870" stroke-width="0.6" opacity="0.8"/>
<line x1="407.5" y1="72.2" x2="430.8" y2="72.2" stroke="#d2ac84" stroke-width="0.9" opacity="0.8"/>
<line x1="406.3" y1="73" x2="445.6" y2="73" stroke="#ddb892" stroke-width="0.6" opacity="0.8"/>
<line x1="408.7" y1="73.6" x2="446.4" y2="73.6" stroke="#ddb892" stroke-width="1" opacity="0.8"/>
<line x1="406.1" y1="74.4" x2="435.6" y2="74.4" stroke="#d2ac84" stroke-width="0.9" opacity="0.8"/>
<line x1="407.5" y1="74.9" x2="436.2" y2="74.9" stroke="#d2ac84" stroke-width="0.6" opacity="0.8"/>
<line x1="408.9" y1="76" x2="446.7" y2="76" stroke="#d2ac84" stroke-width="0.6" opacity="0.8"/>
<line x1="406.6" y1="76.6" x2="447.4" y2="76.6" stroke="#d2ac84" stroke-width="0.9" opacity="0.8"/>
<line x1="407.5" y1="77" x2="447.6" y2="77" stroke="#bf9870" stroke-width="0.8" opacity="0.8"/>
<line x1="406.6" y1="77.8" x2="428.3" y2="77.8" stroke="#d2ac84" stroke-width="0.9" opacity="0.8"/>
<line x1="408.2" y1="78.4" x2="447.4" y2="78.4" stroke="#d2ac84" stroke-width="0.5" opacity="0.8"/>
<line x1="406.4" y1="79.4" x2="439.7" y2="79.4" stroke="#ddb892" stroke-width="0.9" opacity="0.8"/>
<line x1="408.6" y1="80.1" x2="427" y2="80.1" stroke="#bf9870" stroke-width="1" opacity="0.8"/>
<line x1="406.1" y1="80.5" x2="439.2" y2="80.5" stroke="#ddb892" stroke-width="0.9" opacity="0.8"/>
<line x1="408.1" y1="81.4" x2="438" y2="81.4" stroke="#ddb892" stroke-width="0.6" opacity="0.8"/>
<line x1="406.6" y1="82.4" x2="433.4" y2="82.4" stroke="#c9a27a" stroke-width="1" opacity="0.8"/>
<line x1="408.4" y1="82.9" x2="425.9" y2="82.9" stroke="#ddb892" stroke-width="0.5" opacity="0.8"/>
<line x1="406.8" y1="83.2" x2="430" y2="83.2" stroke="#d2ac84" stroke-width="0.7" opacity="0.8"/>
<line x1="406.2" y1="84" x2="435.8" y2="84" stroke="#bf9870" stroke-width="0.9" opacity="0.8"/>
<line x1="408.1" y1="85.1" x2="435.2" y2="85.1" stroke="#c9a27a" stroke-width="0.8" opacity="0.8"/>
<line x1="406.3" y1="85.3" x2="437.9" y2="85.3" stroke="#bf9870" stroke-width="0.8" opacity="0.8"/>
<line x1="406.4" y1="86.6" x2="435.9" y2="86.6" stroke="#ddb892" stroke-width="0.6" opacity="0.8"/>
<line x1="406.2" y1="87.2" x2="429.6" y2="87.2" stroke="#c9a27a" stroke-width="0.6" opacity="0.8"/>
<line x1="406.4" y1="87.4" x2="426.7" y2="87.4" stroke="#d2ac84" stroke-width="0.5" opacity="0.8"/>
<line x1="394.6" y1="94.5" x2="452.3" y2="94.5" stroke="#c9a27a" stroke-width="0.7" opacity="0.8"/>
<line x1="393.4" y1="95.6" x2="434.3" y2="95.6" stroke="#ddb892" stroke-width="0.6" opacity="0.8"/>
<line x1="395.5" y1="95.9" x2="455.8" y2="95.9" stroke="#ddb892" stroke-width="0.9" opacity="0.8"/>
<line x1="395.6" y1="96.4" x2="443.1" y2="96.4" stroke="#c9a27a" stroke-width="0.6" opacity="0.8"/>
<line x1="393.2" y1="97.5" x2="449.8" y2="97.5" stroke="#d2ac84" stroke-width="0.7" opacity="0.8"/>
<line x1="395.3" y1="98" x2="444.1" y2="98" stroke="#bf9870" stroke-width="0.7" opacity="0.8"/>
<line x1="394.5" y1="99.5" x2="438.2" y2="99.5" stroke="#c9a27a" stroke-width="0.9" opacity="0.8"/>
<line x1="394.6" y1="100.2" x2="427.1" y2="100.2" stroke="#d2ac84" stroke-width="0.9" opacity="0.8"/>
<line x1="394.9" y1="100.6" x2="423.5" y2="100.6" stroke="#d2ac84" stroke-width="0.8" opacity="0.8"/>
<line x1="395.7" y1="101.4" x2="445.6" y2="101.4" stroke="#d2ac84" stroke-width="0.8" opacity="0.8"/>
<line x1="394.3" y1="102.5" x2="431.6" y2="102.5" stroke="#c9a27a" stroke-width="0.9" opacity="0.8"/>
<line x1="394.1" y1="102.8" x2="418.2" y2="102.8" stroke="#d2ac84" stroke-width="0.8" opacity="0.8"/>
<line x1="394.4" y1="103.9" x2="440.8" y2="103.9" stroke="#bf9870" stroke-width="0.7" opacity="0.8"/>
<line x1="393.9" y1="104.8" x2="427.6" y2="104.8" stroke="#d2ac84" stroke-width="0.5" opacity="0.8"/>
<line x1="390.5" y1="98.7" x2="414.5" y2="98.7" stroke="#ddb892" stroke-width="1.1" opacity="0.8"/>
<line x1="388.1" y1="100.4" x2="414.9" y2="100.4" stroke="#d2ac84" stroke-width="1.1" opacity="0.8"/>
<line x1="389" y1="101.1" x2="411" y2="101.1" stroke="#bf9870" stroke-width="1.3" opacity="0.8"/>
<line x1="390.2" y1="102.5" x2="414.2" y2="102.5" stroke="#bf9870" stroke-width="2" opacity="0.8"/>
<line x1="390" y1="103.3" x2="420.6" y2="103.3" stroke="#b8906a" stroke-width="1.5" opacity="0.8"/>
<line x1="388.8" y1="104.9" x2="413.1" y2="104.9" stroke="#c9a27a" stroke-width="1.8" opacity="0.8"/>
<line x1="388.4" y1="106.7" x2="413.4" y2="106.7" stroke="#ddb892" stroke-width="1.8" opacity="0.8"/>
<line x1="389.2" y1="107.5" x2="415.9" y2="107.5" stroke="#b8906a" stroke-width="1.8" opacity="0.8"/>
<line x1="387.7" y1="137.3" x2="425.6" y2="137.3" stroke="#c9a27a" stroke-width="0.7" opacity="0.8"/>
<line x1="388.4" y1="137.9" x2="420.6" y2="137.9" stroke="#d2ac84" stroke-width="0.8" opacity="0.8"/>
<line x1="388.9" y1="138.4" x2="419.3" y2="138.4" stroke="#ddb892" stroke-width="0.5" opacity="0.8"/>
<line x1="387.1" y1="139.3" x2="428.5" y2="139.3" stroke="#ddb892" stroke-width="0.9" opacity="0.8"/>
<line x1="386.9" y1="139.6" x2="416.1" y2="139.6" stroke="#ddb892" stroke-width="0.6" opacity="0.8"/>
<line x1="388.9" y1="140.5" x2="437.3" y2="140.5" stroke="#bf9870" stroke-width="0.5" opacity="0.8"/>
<line x1="388.8" y1="140.6" x2="414" y2="140.6" stroke="#ddb892" stroke-width="0.8" opacity="0.8"/>
<line x1="388" y1="141.7" x2="416.3" y2="141.7" stroke="#bf9870" stroke-width="0.7" opacity="0.8"/>
<line x1="388.5" y1="141.8" x2="424.5" y2="141.8" stroke="#c9a27a" stroke-width="0.9" opacity="0.8"/>
<line x1="386.1" y1="143" x2="415.1" y2="143" stroke="#ddb892" stroke-width="0.9" opacity="0.8"/>
<line x1="388.6" y1="143.4" x2="421.8" y2="143.4" stroke="#c9a27a" stroke-width="0.7" opacity="0.8"/>
<line x1="386.4" y1="144.2" x2="430.3" y2="144.2" stroke="#d2ac84" stroke-width="0.7" opacity="0.8"/>
<line x1="387" y1="144.8" x2="412.4" y2="144.8" stroke="#bf9870" stroke-width="0.7" opacity="0.8"/>
<line x1="387.6" y1="145.2" x2="410.8" y2="145.2" stroke="#d2ac84" stroke-width="0.6" opacity="0.8"/>
<line x1="388.8" y1="145.6" x2="422" y2="145.6" stroke="#c9a27a" stroke-width="0.9" opacity="0.8"/>
<line x1="387.3" y1="146.3" x2="414.3" y2="146.3" stroke="#d2ac84" stroke-width="0.8" opacity="0.8"/>
<line x1="386.7" y1="146.6" x2="425.6" y2="146.6" stroke="#ddb892" stroke-width="0.7" opacity="0.8"/>
<line x1="388.6" y1="147.5" x2="414" y2="147.5" stroke="#c9a27a" stroke-width="0.9" opacity="0.8"/>
<line x1="387.4" y1="148.4" x2="410.9" y2="148.4" stroke="#bf9870" stroke-width="0.5" opacity="0.8"/>
<line x1="387.2" y1="148.7" x2="414.2" y2="148.7" stroke="#bf9870" stroke-width="0.8" opacity="0.8"/>
<line x1="388.1" y1="149.2" x2="412.1" y2="149.2" stroke="#bf9870" stroke-width="0.5" opacity="0.8"/>
<line x1="388.6" y1="150.2" x2="420" y2="150.2" stroke="#bf9870" stroke-width="0.8" opacity="0.8"/>
<line x1="386.3" y1="150.2" x2="405.3" y2="150.2" stroke="#bf9870" stroke-width="0.9" opacity="0.8"/>
<line x1="388.6" y1="151.3" x2="405.7" y2="151.3" stroke="#bf9870" stroke-width="0.7" opacity="0.8"/>
<line x1="387.4" y1="151.6" x2="416.9" y2="151.6" stroke="#ddb892" stroke-width="0.8" opacity="0.8"/>
<line x1="386.7" y1="152.5" x2="404.9" y2="152.5" stroke="#d2ac84" stroke-width="0.8" opacity="0.8"/>
<line x1="388.5" y1="153" x2="411.8" y2="153" stroke="#bf9870" stroke-width="0.5" opacity="0.8"/>
<line x1="388.6" y1="153.3" x2="406.3" y2="153.3" stroke="#c9a27a" stroke-width="0.9" opacity="0.8"/>
<line x1="388.7" y1="154.3" x2="401.7" y2="154.3" stroke="#d2ac84" stroke-width="1" opacity="0.8"/>
<line x1="386.4" y1="154.6" x2="411" y2="154.6" stroke="#bf9870" stroke-width="1" opacity="0.8"/>
<line x1="386.1" y1="138.6" x2="396.1" y2="138.6" stroke="#c09670" stroke-width="3" opacity="0.8"/>
<line x1="386.4" y1="139.3" x2="396.7" y2="139.3" stroke="#c09670" stroke-width="2.2" opacity="0.8"/>
<line x1="386.7" y1="141.6" x2="401.5" y2="141.6" stroke="#c09670" stroke-width="3" opacity="0.8"/>
<line x1="387.6" y1="142.7" x2="399.8" y2="142.7" stroke="#b38a5a" stroke-width="3" opacity="0.8"/>
<line x1="386.2" y1="143.6" x2="397.4" y2="143.6" stroke="#c09670" stroke-width="1.9" opacity="0.8"/>
<line x1="387.3" y1="144.7" x2="395.2" y2="144.7" stroke="#c09670" stroke-width="2.5" opacity="0.8"/>
<line x1="386.3" y1="146" x2="399.7" y2="146" stroke="#b38a5a" stroke-width="2.9" opacity="0.8"/>
<line x1="386.9" y1="146.6" x2="395.1" y2="146.6" stroke="#c09670" stroke-width="1.7" opacity="0.8"/>
<line x1="386.1" y1="148.4" x2="393.5" y2="148.4" stroke="#b38a5a" stroke-width="1.8" opacity="0.8"/>
<line x1="387" y1="149.6" x2="395.9" y2="149.6" stroke="#b38a5a" stroke-width="2.8" opacity="0.8"/>
<line x1="390" y1="127" x2="410" y2="127" stroke="#d8b898" stroke-width="0.7"/>
<line x1="430.1" y1="112.2" x2="452.8" y2="112.2" stroke="#c47a7a" stroke-width="0.8" opacity="0.8"/>
<line x1="429.9" y1="113.5" x2="455.4" y2="113.5" stroke="#c47a7a" stroke-width="0.6" opacity="0.8"/>
<line x1="428.9" y1="114.4" x2="445.3" y2="114.4" stroke="#d09090" stroke-width="0.6" opacity="0.8"/>
<line x1="431" y1="115.4" x2="457" y2="115.4" stroke="#c47a7a" stroke-width="0.5" opacity="0.8"/>
<line x1="428.8" y1="116.5" x2="455.2" y2="116.5" stroke="#d09090" stroke-width="0.9" opacity="0.8"/>
<line x1="428.8" y1="117.5" x2="453.6" y2="117.5" stroke="#c47a7a" stroke-width="0.7" opacity="0.8"/>
<line x1="429.3" y1="118.3" x2="450" y2="118.3" stroke="#d09090" stroke-width="0.9" opacity="0.8"/>
<line x1="429" y1="119.1" x2="451.2" y2="119.1" stroke="#b86a6a" stroke-width="0.9" opacity="0.8"/>
<line x1="429.7" y1="120.3" x2="451.6" y2="120.3" stroke="#b86a6a" stroke-width="1" opacity="0.8"/>
<line x1="429.6" y1="120.8" x2="452" y2="120.8" stroke="#d09090" stroke-width="0.6" opacity="0.8"/>
<line x1="429.4" y1="121.8" x2="445" y2="121.8" stroke="#b86a6a" stroke-width="0.6" opacity="0.8"/>
<line x1="429.7" y1="123" x2="449.5" y2="123" stroke="#b86a6a" stroke-width="0.6" opacity="0.8"/>
<line x1="428.2" y1="123.3" x2="446.3" y2="123.3" stroke="#b86a6a" stroke-width="0.8" opacity="0.8"/>
<line x1="429.3" y1="124.5" x2="441.1" y2="124.5" stroke="#c47a7a" stroke-width="0.6" opacity="0.8"/>
<line x1="420.7" y1="123.6" x2="459.4" y2="123.6" stroke="#c47a7a" stroke-width="0.5" opacity="0.8"/>
<line x1="419.1" y1="123.9" x2="445.9" y2="123.9" stroke="#b86a6a" stroke-width="0.6" opacity="0.8"/>
<line x1="419.4" y1="124.7" x2="441.7" y2="124.7" stroke="#c47a7a" stroke-width="0.6" opacity="0.8"/>
<line x1="418.1" y1="125.8" x2="446.5" y2="125.8" stroke="#b86a6a" stroke-width="0.9" opacity="0.8"/>
<line x1="420.3" y1="126.1" x2="437" y2="126.1" stroke="#b86a6a" stroke-width="0.7" opacity="0.8"/>
<line x1="420.2" y1="126.6" x2="439.2" y2="126.6" stroke="#b86a6a" stroke-width="0.9" opacity="0.8"/>
<line x1="420" y1="127.5" x2="444.8" y2="127.5" stroke="#d09090" stroke-width="0.8" opacity="0.8"/>
<line x1="419.4" y1="128.5" x2="437" y2="128.5" stroke="#d09090" stroke-width="0.8" opacity="0.8"/>
<line x1="419.6" y1="128.7" x2="446.4" y2="128.7" stroke="#b86a6a" stroke-width="0.9" opacity="0.8"/>
<line x1="418.3" y1="129.4" x2="434.4" y2="129.4" stroke="#c47a7a" stroke-width="0.8" opacity="0.8"/>
<path d="M426.9 112.5 V124.5" fill="none" stroke="#c07070" stroke-width="2.2"/>
<path d="M417.8 122.5 V130.5" fill="none" stroke="#c07070" stroke-width="2.2"/>
<line x1="408" y1="129.3" x2="418" y2="129.3" stroke="#c87878" stroke-width="1.2"/>
<rect x="402" y="167.5" width="44" height="5" fill="#b6705c"/>
<rect x="402" y="175.5" width="30" height="9.5" fill="#b6705c"/>
<line x1="408" y1="173.8" x2="430" y2="173.8" stroke="#e8d0c8" stroke-width="0.8"/>
<line x1="406.6" y1="168.6" x2="437.6" y2="168.6" stroke="#b6705c" stroke-width="1.4" opacity="0.9"/>
<line x1="406.6" y1="172.1" x2="438.4" y2="172.1" stroke="#c98872" stroke-width="1.7" opacity="0.9"/>
<line x1="407.6" y1="186.9" x2="429.8" y2="186.9" stroke="#c98872" stroke-width="1.3" opacity="0.9"/>
<line x1="405" y1="187.6" x2="429" y2="187.6" stroke="#b6705c" stroke-width="1.2" opacity="0.9"/>
<line x1="404" y1="182" x2="426.9" y2="182" stroke="#b6705c" stroke-width="1.2" opacity="0.9"/>
<line x1="404.8" y1="174.1" x2="422.1" y2="174.1" stroke="#c98872" stroke-width="1.6" opacity="0.9"/>
<line x1="406.4" y1="189.8" x2="431" y2="189.8" stroke="#b6705c" stroke-width="1.8" opacity="0.9"/>
<line x1="407.5" y1="181.3" x2="429.1" y2="181.3" stroke="#c98872" stroke-width="1.7" opacity="0.9"/>
<line x1="404.9" y1="170.7" x2="431.3" y2="170.7" stroke="#c98872" stroke-width="1.7" opacity="0.9"/>
<line x1="404.4" y1="168.5" x2="440.5" y2="168.5" stroke="#c98872" stroke-width="1.2" opacity="0.9"/>
<line x1="406.7" y1="169.9" x2="430.3" y2="169.9" stroke="#b6705c" stroke-width="1.6" opacity="0.9"/>
<line x1="405.5" y1="189.4" x2="424.2" y2="189.4" stroke="#c98872" stroke-width="1.7" opacity="0.9"/>
<line x1="404.4" y1="176.5" x2="434.9" y2="176.5" stroke="#c98872" stroke-width="1.6" opacity="0.9"/>
<line x1="406" y1="176.8" x2="435.4" y2="176.8" stroke="#b6705c" stroke-width="1.7" opacity="0.9"/>
<line x1="407.3" y1="172.4" x2="431" y2="172.4" stroke="#c98872" stroke-width="2.3" opacity="0.9"/>
<line x1="406.3" y1="176.2" x2="428.7" y2="176.2" stroke="#c98872" stroke-width="1.4" opacity="0.9"/>
<line x1="406.5" y1="173.3" x2="424.7" y2="173.3" stroke="#c98872" stroke-width="2.1" opacity="0.9"/>
<line x1="404.8" y1="168.3" x2="422.4" y2="168.3" stroke="#b6705c" stroke-width="2.4" opacity="0.9"/>
<line x1="407.7" y1="180.1" x2="427.1" y2="180.1" stroke="#c98872" stroke-width="2.4" opacity="0.9"/>
<line x1="407.1" y1="168.7" x2="443.9" y2="168.7" stroke="#b6705c" stroke-width="1.3" opacity="0.9"/>
<line x1="405" y1="187" x2="426.6" y2="187" stroke="#c98872" stroke-width="1.4" opacity="0.9"/>
<line x1="406.2" y1="184.3" x2="429.2" y2="184.3" stroke="#b6705c" stroke-width="1.7" opacity="0.9"/>
<line x1="405.5" y1="186.2" x2="429.2" y2="186.2" stroke="#c98872" stroke-width="1.8" opacity="0.9"/>
<line x1="407.7" y1="184.6" x2="427.9" y2="184.6" stroke="#b6705c" stroke-width="1.3" opacity="0.9"/>
<line x1="405.4" y1="188.4" x2="431.7" y2="188.4" stroke="#c98872" stroke-width="2.1" opacity="0.9"/>
<line x1="331" y1="206" x2="470" y2="206" stroke="#dcdac0" stroke-width="1.5"/>
<line x1="331" y1="209.5" x2="390" y2="209.5" stroke="#c8c49a" stroke-width="2"/>
<line x1="340" y1="213.3" x2="400" y2="213.3" stroke="#d4d0ae" stroke-width="1.5"/>
<line x1="331" y1="217.2" x2="356" y2="217.2" stroke="#aaa468" stroke-width="3"/>
<line x1="331" y1="220.2" x2="382" y2="220.2" stroke="#c4c096" stroke-width="2"/>
<line x1="331" y1="223.6" x2="400" y2="223.6" stroke="#aaa468" stroke-width="3"/>
<line x1="331" y1="227" x2="392" y2="227" stroke="#c8c49a" stroke-width="2"/>
<line x1="331" y1="229.8" x2="412" y2="229.8" stroke="#d4d0ae" stroke-width="1.5"/>
<line x1="331" y1="232.7" x2="352" y2="232.7" stroke="#aaa468" stroke-width="3"/>
<line x1="331" y1="237.2" x2="336" y2="237.2" stroke="#aaa468" stroke-width="3"/>
<line x1="333.9" y1="230.1" x2="345" y2="230.1" stroke="#d8d6b8" stroke-width="1.1" opacity="0.7"/>
<line x1="334.2" y1="212" x2="345.2" y2="212" stroke="#d8d6b8" stroke-width="1.1" opacity="0.7"/>
<line x1="332.4" y1="231" x2="348.2" y2="231" stroke="#c8c49a" stroke-width="0.8" opacity="0.7"/>
<line x1="334.4" y1="212.6" x2="347.9" y2="212.6" stroke="#c8c49a" stroke-width="1.1" opacity="0.7"/>
<line x1="333" y1="211.6" x2="392" y2="211.6" stroke="#d8d6b8" stroke-width="0.9" opacity="0.7"/>
<line x1="332.8" y1="227" x2="358.2" y2="227" stroke="#c8c49a" stroke-width="0.9" opacity="0.7"/>
<line x1="332.8" y1="213.9" x2="371.5" y2="213.9" stroke="#d8d6b8" stroke-width="0.9" opacity="0.7"/>
<line x1="331.6" y1="229.6" x2="345" y2="229.6" stroke="#d8d6b8" stroke-width="1" opacity="0.7"/>
<line x1="331.1" y1="225.6" x2="384.2" y2="225.6" stroke="#c8c49a" stroke-width="0.7" opacity="0.7"/>
<line x1="332.6" y1="227.4" x2="388.7" y2="227.4" stroke="#d8d6b8" stroke-width="0.9" opacity="0.7"/>
<line x1="332.6" y1="227" x2="361.9" y2="227" stroke="#d8d6b8" stroke-width="0.7" opacity="0.7"/>
<line x1="331.9" y1="229.7" x2="351.9" y2="229.7" stroke="#c8c49a" stroke-width="0.7" opacity="0.7"/>
<line x1="332.9" y1="221.7" x2="353.2" y2="221.7" stroke="#c8c49a" stroke-width="1.1" opacity="0.7"/>
<line x1="332.1" y1="224.9" x2="383.6" y2="224.9" stroke="#d8d6b8" stroke-width="0.7" opacity="0.7"/>
<line x1="334.4" y1="218.3" x2="352.8" y2="218.3" stroke="#d8d6b8" stroke-width="0.8" opacity="0.7"/>
<line x1="334.8" y1="207" x2="389" y2="207" stroke="#d8d6b8" stroke-width="1.1" opacity="0.7"/>
<line x1="333" y1="220.1" x2="386.9" y2="220.1" stroke="#d8d6b8" stroke-width="0.9" opacity="0.7"/>
<line x1="331.9" y1="208" x2="395.7" y2="208" stroke="#c8c49a" stroke-width="1" opacity="0.7"/>
<line x1="331.7" y1="196.7" x2="378.3" y2="196.7" stroke="#b9a872" stroke-width="1" opacity="0.9"/>
<line x1="331" y1="203.1" x2="387" y2="203.1" stroke="#a8965c" stroke-width="1" opacity="0.9"/>
<line x1="330.6" y1="195.9" x2="372.7" y2="195.9" stroke="#b9a872" stroke-width="1" opacity="0.9"/>
<line x1="330.1" y1="194.9" x2="382.9" y2="194.9" stroke="#a8965c" stroke-width="2.2" opacity="0.9"/>
<line x1="331.8" y1="200.7" x2="361" y2="200.7" stroke="#b9a872" stroke-width="2.5" opacity="0.9"/>
<line x1="331.7" y1="202.2" x2="373.7" y2="202.2" stroke="#a8965c" stroke-width="1.5" opacity="0.9"/>
<line x1="333.8" y1="197.5" x2="384.4" y2="197.5" stroke="#b9a872" stroke-width="1.9" opacity="0.9"/>
<line x1="334" y1="195.7" x2="363.2" y2="195.7" stroke="#a8965c" stroke-width="1.8" opacity="0.9"/>
<line x1="331.2" y1="195.1" x2="365.9" y2="195.1" stroke="#b9a872" stroke-width="1.7" opacity="0.9"/>
<line x1="333.4" y1="194.1" x2="378.3" y2="194.1" stroke="#b9a872" stroke-width="2.3" opacity="0.9"/>
<line x1="331.9" y1="198.4" x2="394.9" y2="198.4" stroke="#a8965c" stroke-width="1.7" opacity="0.9"/>
<line x1="330.1" y1="200" x2="379" y2="200" stroke="#a8965c" stroke-width="2.1" opacity="0.9"/>
<line x1="330.1" y1="204" x2="394.1" y2="204" stroke="#a8965c" stroke-width="2" opacity="0.9"/>
<line x1="332" y1="197.2" x2="372.1" y2="197.2" stroke="#a8965c" stroke-width="1.3" opacity="0.9"/>
<line x1="330.5" y1="193.3" x2="363.5" y2="193.3" stroke="#a8965c" stroke-width="1.6" opacity="0.9"/>
<line x1="333" y1="192.6" x2="392" y2="192.6" stroke="#a8965c" stroke-width="2.4" opacity="0.9"/>
<line x1="332.6" y1="201.9" x2="365.8" y2="201.9" stroke="#b9a872" stroke-width="1.4" opacity="0.9"/>
<line x1="331" y1="199.6" x2="369.1" y2="199.6" stroke="#a8965c" stroke-width="1.2" opacity="0.9"/>
<line x1="330.2" y1="193.9" x2="374.8" y2="193.9" stroke="#b9a872" stroke-width="2.3" opacity="0.9"/>
<line x1="330.2" y1="198.1" x2="369.9" y2="198.1" stroke="#a8965c" stroke-width="1.6" opacity="0.9"/>
<line x1="331.5" y1="195.3" x2="396.8" y2="195.3" stroke="#a8965c" stroke-width="1.2" opacity="0.9"/>
<line x1="331.8" y1="200.2" x2="370.8" y2="200.2" stroke="#a8965c" stroke-width="2.3" opacity="0.9"/>
<line x1="333.5" y1="195.1" x2="393.6" y2="195.1" stroke="#b9a872" stroke-width="1.8" opacity="0.9"/>
<line x1="332" y1="197.1" x2="373.8" y2="197.1" stroke="#a8965c" stroke-width="2.3" opacity="0.9"/>
<line x1="330.1" y1="194.7" x2="376.2" y2="194.7" stroke="#b9a872" stroke-width="1.9" opacity="0.9"/>
<path d="M23 411 H40.5" fill="none" stroke="#8e9196" stroke-width="7"/>
<circle cx="27" cy="411" r="4" fill="#8e9196"/>
<path d="M40.5 293 V421" fill="none" stroke="#8e9196" stroke-width="7" stroke-linecap="butt"/>
<path d="M40.5 295 H54" fill="none" stroke="#8e9196" stroke-width="6"/>
<path d="M53.5 246 V308" fill="none" stroke="#8e9196" stroke-width="7"/>
<rect x="49.5" y="243.3" width="21.3" height="10" rx="3" fill="#8e9196"/>
<path d="M40.5 360 H83" fill="none" stroke="#8e9196" stroke-width="4"/>
<path d="M82 358 H106" fill="none" stroke="#4b4fb5" stroke-width="3.5"/>
<path d="M105.2 353 V360" fill="none" stroke="#4b4fb5" stroke-width="2.5"/>
<path d="M105 355 H114" fill="none" stroke="#4b6bb5" stroke-width="2"/>
<path d="M113.8 344 V360.5" fill="none" stroke="#4a68a8" stroke-width="3"/>
<path d="M113 344 H158" fill="none" stroke="#4a68a8" stroke-width="3"/>
<path d="M158 339 V346" fill="none" stroke="#4a68a8" stroke-width="3.5"/>
<path d="M161.6 321 V346" fill="none" stroke="#4a68a8" stroke-width="3"/>
<path d="M161 336 H222" fill="none" stroke="#4a68a8" stroke-width="3"/>
<path d="M161 346.3 H248" fill="none" stroke="#4a68a8" stroke-width="3"/>
<circle cx="222" cy="336" r="3.6" fill="#3c7cec"/>
<circle cx="248" cy="346.3" r="3.6" fill="#3c7cec"/>
<rect x="62.8" y="236.5" width="134" height="7.4" rx="2.5" fill="#a8965a"/>
<path d="M196 227.4 V251" fill="none" stroke="#a8965a" stroke-width="7"/>
<path d="M196 231 H244" fill="none" stroke="#a8965a" stroke-width="7"/>
<path d="M196 249.6 H257" fill="none" stroke="#9ea15e" stroke-width="3"/>
<path d="M244 219.5 V238.5" fill="none" stroke="#a8965a" stroke-width="7"/>
<path d="M244 223 H327" fill="none" stroke="#a8965a" stroke-width="7"/>
<path d="M326.5 152 V237.5" fill="none" stroke="#a49c60" stroke-width="8"/>
<path d="M326 154.4 H344" fill="none" stroke="#9ea15e" stroke-width="4"/>
<path d="M344 145 V163" fill="none" stroke="#9ea15e" stroke-width="3.5"/>
<path d="M343 146.7 H379" fill="none" stroke="#b38a5a" stroke-width="3.5"/>
<path d="M378 107 V155" fill="none" stroke="#b38a5a" stroke-width="3.5"/>
<path d="M343 160.5 H421" fill="none" stroke="#b38a5a" stroke-width="3.5"/>
<path d="M378 108.5 H421" fill="none" stroke="#b38a5a" stroke-width="3.5"/>
<path d="M382.5 101 V110.8" fill="none" stroke="#b38a5a" stroke-width="3.5"/>
<path d="M386.8 90.3 V110.8" fill="none" stroke="#b38a5a" stroke-width="3.5"/>
<path d="M382 102.5 H388" fill="none" stroke="#b38a5a" stroke-width="3"/>
<path d="M386 92.2 H406" fill="none" stroke="#b38a5a" stroke-width="3.5"/>
<path d="M391.7 88 V94.2" fill="none" stroke="#b38a5a" stroke-width="3.5"/>
<path d="M396.1 82.5 V91.3" fill="none" stroke="#b38a5a" stroke-width="3.5"/>
<path d="M391 84.3 H398" fill="none" stroke="#b38a5a" stroke-width="3"/>
<path d="M404.1 71.8 V94.2" fill="none" stroke="#b38a5a" stroke-width="3.8"/>
<path d="M397 90.3 H413" fill="none" stroke="#b38a5a" stroke-width="3.8"/>
<path d="M391.7 98 V108" fill="none" stroke="#b38a5a" stroke-width="2.5"/>
<path d="M378 134.2 H417" fill="none" stroke="#b38a5a" stroke-width="3.8"/>
<path d="M380.5 132 V140" fill="none" stroke="#b38a5a" stroke-width="3"/>
<path d="M387.5 132.3 V140" fill="none" stroke="#b38a5a" stroke-width="3"/>
<path d="M330 188 H405" fill="none" stroke="#b6705c" stroke-width="5"/>
<path d="M403 166 V190" fill="none" stroke="#b6705c" stroke-width="4"/>
<path d="M395 201.3 H975" fill="none" stroke="#9d9660" stroke-width="4"/>
<text x="457.2" y="187.1" font-size="7" fill="#222" textLength="155.1" lengthAdjust="spacingAndGlyphs" opacity="0.9" stroke="#222" stroke-width="0.25">2019-nCoV_MN908947_GDMCSEQ22_9981_new</text>
<text x="464.7" y="196" font-size="7" fill="#222" textLength="153.8" lengthAdjust="spacingAndGlyphs" opacity="0.9" stroke="#222" stroke-width="0.25">2019-nCoV_MN908947_GDMCSEQ22_10972_new</text>
<text x="452.6" y="191.7" font-size="7" fill="#222" textLength="151.9" lengthAdjust="spacingAndGlyphs" opacity="0.9" stroke="#222" stroke-width="0.25">2019-nCoV_MN908947_GDMCSEQ22_9006_new</text>
<text x="463.3" y="185.2" font-size="7" fill="#222" textLength="153.4" lengthAdjust="spacingAndGlyphs" opacity="0.9" stroke="#222" stroke-width="0.25">2019-nCoV_MN908947_GDMCSEQ22_9296_new</text>
<text x="445.8" y="195.3" font-size="7" fill="#222" textLength="151.9" lengthAdjust="spacingAndGlyphs" opacity="0.9" stroke="#222" stroke-width="0.25">2019-nCoV_MN908947_GDMCSEQ22_9086_new</text>
<text x="464.9" y="190.7" font-size="7" fill="#222" textLength="156.2" lengthAdjust="spacingAndGlyphs" opacity="0.9" stroke="#222" stroke-width="0.25">2019-nCoV_MN908947_GDMCSEQ22_9833_new</text>
<text x="440.9" y="193" font-size="7" fill="#222" textLength="152.6" lengthAdjust="spacingAndGlyphs" opacity="0.9" stroke="#222" stroke-width="0.25">2019-nCoV_MN908947_GDMCSEQ22_10018_new</text>
<text x="456.2" y="194" font-size="7" fill="#222" textLength="157.5" lengthAdjust="spacingAndGlyphs" opacity="0.9" stroke="#222" stroke-width="0.25">2019-nCoV_MN908947_GDMCSEQ22_9047_new</text>
<text x="460.4" y="187" font-size="7" fill="#222" textLength="151" lengthAdjust="spacingAndGlyphs" opacity="0.9" stroke="#222" stroke-width="0.25">2019-nCoV_MN908947_GDMCSEQ22_10900_new</text>
<text x="354.7" y="200.1" font-size="7" fill="#222" textLength="145" lengthAdjust="spacingAndGlyphs" stroke="#222" stroke-width="0.25">2019-nCoV_MN908947_GDMCSEQ22_10491_new</text>
<text x="374.1" y="202.4" font-size="7" fill="#222" textLength="145" lengthAdjust="spacingAndGlyphs" stroke="#222" stroke-width="0.25">2019-nCoV_MN908947_GDMCSEQ22_9382_new</text>
<text x="373.2" y="204.7" font-size="7" fill="#222" textLength="145" lengthAdjust="spacingAndGlyphs" stroke="#222" stroke-width="0.25">2019-nCoV_MN908947_GDMCSEQ22_10679_new</text>
<text x="391.8" y="201.6" font-size="7" fill="#222" textLength="145" lengthAdjust="spacingAndGlyphs" stroke="#222" stroke-width="0.25">2019-nCoV_MN908947_GDMCSEQ22_9427_new</text>
<text x="393.2" y="204.7" font-size="7" fill="#222" textLength="145" lengthAdjust="spacingAndGlyphs" stroke="#222" stroke-width="0.25">2019-nCoV_MN908947_GDMCSEQ22_10347_new</text>
<text x="390.8" y="205.3" font-size="7" fill="#222" textLength="145" lengthAdjust="spacingAndGlyphs" stroke="#222" stroke-width="0.25">2019-nCoV_MN908947_GDMCSEQ22_10189_new</text>
<text x="349.3" y="206.9" font-size="7" fill="#222" textLength="145" lengthAdjust="spacingAndGlyphs" stroke="#222" stroke-width="0.25">2019-nCoV_MN908947_GDMCSEQ22_10147_new</text>
<text x="394.6" y="203.3" font-size="7" fill="#222" textLength="145" lengthAdjust="spacingAndGlyphs" stroke="#222" stroke-width="0.25">2019-nCoV_MN908947_GDMCSEQ22_9411_new</text>
<text x="353.8" y="202.4" font-size="7" fill="#222" textLength="145" lengthAdjust="spacingAndGlyphs" stroke="#222" stroke-width="0.25">2019-nCoV_MN908947_GDMCSEQ22_10097_new</text>
<text x="366.9" y="202.9" font-size="7" fill="#222" textLength="145" lengthAdjust="spacingAndGlyphs" stroke="#222" stroke-width="0.25">2019-nCoV_MN908947_GDMCSEQ22_9924_new</text>
<text x="447" y="170.2" font-size="7" fill="#222" textLength="147.6" lengthAdjust="spacingAndGlyphs" stroke="#222" stroke-width="0.25">2019-nCoV_MN908947_GDMCSEQ22_9544_new</text>
<text x="446.1" y="170.6" font-size="7" fill="#222" textLength="148.1" lengthAdjust="spacingAndGlyphs" stroke="#222" stroke-width="0.25">2019-nCoV_MN908947_GDMCSEQ22_10015_new</text>
<text x="446" y="170.4" font-size="7" fill="#222" textLength="148.1" lengthAdjust="spacingAndGlyphs" stroke="#222" stroke-width="0.25">2019-nCoV_MN908947_GDMCSEQ22_10069_new</text>
<text x="446.4" y="170.3" font-size="7" fill="#222" textLength="148.8" lengthAdjust="spacingAndGlyphs" stroke="#222" stroke-width="0.25">2019-nCoV_MN908947_GDMCSEQ22_10275_new</text>
<text x="446.2" y="170.4" font-size="7" fill="#222" textLength="149.1" lengthAdjust="spacingAndGlyphs" stroke="#222" stroke-width="0.25">2019-nCoV_MN908947_GDMCSEQ22_10707_new</text>
<text x="470" y="179.5" font-size="7" fill="#222" textLength="149" lengthAdjust="spacingAndGlyphs" stroke="#222" stroke-width="0.25">2019-nCoV_MN908947_GDMCSEQ22_10870_new</text>
<text x="488" y="183" font-size="7" fill="#222" textLength="149" lengthAdjust="spacingAndGlyphs" stroke="#222" stroke-width="0.25">2019-nCoV_MN908947_GDMCSEQ22_10852_new</text>
<text x="475" y="197.8" font-size="7" fill="#222" textLength="149" lengthAdjust="spacingAndGlyphs" stroke="#222" stroke-width="0.25">2019-nCoV_MN908947_GDMCSEQ22_10552_new</text>
<text x="420" y="92.3" font-size="7" fill="#222" textLength="166" lengthAdjust="spacingAndGlyphs" stroke="#222" stroke-width="0.25">2019-nCoV_MN908947_GDMCSEQ22_9660_new</text>
<text x="437" y="95.5" font-size="7" fill="#222" textLength="149" lengthAdjust="spacingAndGlyphs" stroke="#222" stroke-width="0.25">2019-nCoV_MN908947_GDMCSEQ22_10190_new</text>
<text x="428.8" y="163.8" font-size="7" fill="#222" textLength="145" lengthAdjust="spacingAndGlyphs" stroke="#222" stroke-width="0.25">2019-nCoV_MN908947_GDMCSEQ22_9698_new</text>
<text x="428.8" y="110.3" font-size="7" fill="#222" textLength="147.6" lengthAdjust="spacingAndGlyphs" stroke="#222" stroke-width="0.25">2019-nCoV_MN908947|GDMCSEQ22_10886_new</text>
<text x="424" y="137.3" font-size="7" fill="#222" textLength="145.2" lengthAdjust="spacingAndGlyphs" stroke="#222" stroke-width="0.25">2019-nCoV_MN908947_GDMCSEQ22_9704_new</text>
<text x="363.3" y="219" font-size="7" fill="#222" textLength="145" lengthAdjust="spacingAndGlyphs" stroke="#222" stroke-width="0.25">2019-nCoV_MN908947_GDMCSEQ22_9656_new</text>
<text x="407" y="225.5" font-size="7" fill="#222" textLength="148.8" lengthAdjust="spacingAndGlyphs" stroke="#222" stroke-width="0.25">2019-nCoV_MN908947|GDMCSEQ22_10897_new</text>
<text x="359.6" y="235" font-size="7" fill="#222" textLength="144.9" lengthAdjust="spacingAndGlyphs" stroke="#222" stroke-width="0.25">2019-nCoV_MN908947_GDMCSEQ22_9621_new</text>
<text x="341.8" y="239.3" font-size="7" fill="#222" textLength="133.2" lengthAdjust="spacingAndGlyphs" stroke="#222" stroke-width="0.25">2019-nCoV_MN908947_Sample22_9422_new</text>
<text x="298.5" y="245.2" font-size="7" fill="#222" textLength="132.8" lengthAdjust="spacingAndGlyphs" stroke="#222" stroke-width="0.25">2019-nCoV_MN908947_Sample22_9482_new</text>
<text x="228.5" y="338" font-size="7" fill="#222" textLength="113.1" lengthAdjust="spacingAndGlyphs" stroke="#222" stroke-width="0.25">2019-nCoV_MN908947|Sample 4_new</text>
<text x="254.2" y="348.3" font-size="7" fill="#222" textLength="113.5" lengthAdjust="spacingAndGlyphs" stroke="#222" stroke-width="0.25">2019-nCoV_MN908947|Sample 7_new</text>
<circle cx="413" cy="90" r="3.5" fill="#f59a31" stroke="#d07a20" stroke-width="0.8"/>
<circle cx="430" cy="93.2" r="3.5" fill="#f59a31" stroke="#d07a20" stroke-width="0.8"/>
<circle cx="434.4" cy="89.7" r="3.5" fill="#f59a31" stroke="#d07a20" stroke-width="0.8"/>
<circle cx="421.6" cy="108.8" r="3.5" fill="#f59a31" stroke="#d07a20" stroke-width="0.8"/>
<circle cx="416.7" cy="135.3" r="3.5" fill="#f59a31" stroke="#d07a20" stroke-width="0.8"/>
<circle cx="421.6" cy="162.2" r="3.5" fill="#f6b535" stroke="#d07a20" stroke-width="0.8"/>
<circle cx="438.7" cy="166.5" r="3.6" fill="#f04f29" stroke="#c83c1c" stroke-width="0.8"/>
<circle cx="438.7" cy="170" r="3.6" fill="#f04f29" stroke="#c83c1c" stroke-width="0.8"/>
<circle cx="434.7" cy="179" r="3.6" fill="#f04f29" stroke="#c83c1c" stroke-width="0.8"/>
<circle cx="443.3" cy="179" r="3.6" fill="#f04f29" stroke="#c83c1c" stroke-width="0.8"/>
<circle cx="430" cy="186.2" r="3.6" fill="#f04f29" stroke="#c83c1c" stroke-width="0.8"/>
<circle cx="434.6" cy="185.5" r="3.6" fill="#f04f29" stroke="#c83c1c" stroke-width="0.8"/>
<circle cx="443.3" cy="187" r="3.6" fill="#f04f29" stroke="#c83c1c" stroke-width="0.8"/>
<circle cx="425.8" cy="191.8" r="3.6" fill="#f04f29" stroke="#c83c1c" stroke-width="0.8"/>
<circle cx="438.3" cy="191.8" r="3.6" fill="#f04f29" stroke="#c83c1c" stroke-width="0.8"/>
<circle cx="447.2" cy="192" r="3.6" fill="#f04f29" stroke="#c83c1c" stroke-width="0.8"/>
<circle cx="458.5" cy="182.2" r="3.6" fill="#f04f29" stroke="#c83c1c" stroke-width="0.8"/>
<circle cx="465" cy="178.4" r="3.6" fill="#f04f29" stroke="#c83c1c" stroke-width="0.8"/>
<circle cx="481.8" cy="182" r="3.6" fill="#f04f29" stroke="#c83c1c" stroke-width="0.8"/>
<circle cx="347.8" cy="202.4" r="3.5" fill="#f2d73a" stroke="#c8a820" stroke-width="0.8"/>
<circle cx="361" cy="203" r="3.5" fill="#f2d73a" stroke="#c8a820" stroke-width="0.8"/>
<circle cx="369.2" cy="200.2" r="3.5" fill="#f2d73a" stroke="#c8a820" stroke-width="0.8"/>
<circle cx="373.7" cy="197.2" r="3.5" fill="#f2d73a" stroke="#c8a820" stroke-width="0.8"/>
<circle cx="382.6" cy="195.7" r="3.5" fill="#f2d73a" stroke="#c8a820" stroke-width="0.8"/>
<circle cx="387" cy="203" r="3.5" fill="#f2d73a" stroke="#c8a820" stroke-width="0.8"/>
<circle cx="391.1" cy="198.7" r="3.5" fill="#f2d73a" stroke="#c8a820" stroke-width="0.8"/>
<circle cx="395.6" cy="203" r="3.5" fill="#f2d73a" stroke="#c8a820" stroke-width="0.8"/>
<circle cx="443" cy="197.6" r="3.5" fill="#f2d73a" stroke="#c8a820" stroke-width="0.8"/>
<circle cx="469.2" cy="196.6" r="3.5" fill="#f2d73a" stroke="#c8a820" stroke-width="0.8"/>
<circle cx="356.6" cy="217.2" r="3.5" fill="#f2d73a" stroke="#c8a820" stroke-width="0.8"/>
<circle cx="399.6" cy="223.6" r="3.5" fill="#f2d73a" stroke="#c8a820" stroke-width="0.8"/>
<circle cx="352.5" cy="232.7" r="3.5" fill="#f2d73a" stroke="#c8a820" stroke-width="0.8"/>
<circle cx="335.2" cy="237.2" r="3.5" fill="#f2d73a" stroke="#c8a820" stroke-width="0.8"/>
<circle cx="291" cy="243.2" r="3.5" fill="#c8d832" stroke="#98a020" stroke-width="0.8"/>
<circle cx="975.5" cy="201.3" r="3.6" fill="#f2d73a" stroke="#c8a820" stroke-width="0.8"/>
<text x="300.6" y="143" font-size="11.6" fill="#505358" font-weight="bold" textLength="73.4" lengthAdjust="spacingAndGlyphs">22B (Omicron)</text>
<text x="325.5" y="183.9" font-size="11.6" fill="#505358" font-weight="bold" textLength="74.1" lengthAdjust="spacingAndGlyphs">22D (Omicron)</text>
<text x="249.5" y="218.7" font-size="11.6" fill="#505358" font-weight="bold" textLength="72.5" lengthAdjust="spacingAndGlyphs">21L (Omicron)</text>
<text x="116" y="236.9" font-size="11.6" fill="#505358" font-weight="bold" textLength="76" lengthAdjust="spacingAndGlyphs">21M (Omicron)</text>
<text x="28.9" y="290.2" font-size="11.6" fill="#505358" font-weight="bold" textLength="19.5" lengthAdjust="spacingAndGlyphs">20B</text>
<text x="98" y="340.3" font-size="11.6" fill="#505358" font-weight="bold" textLength="55.4" lengthAdjust="spacingAndGlyphs">21J (Delta)</text>
<text x="43.7" y="354" font-size="11.6" fill="#505358" font-weight="bold" textLength="57.6" lengthAdjust="spacingAndGlyphs">21A (Delta)</text>
<clipPath id="c20a"><rect x="18.3" y="380" width="40" height="40"/></clipPath>
<text x="15.3" y="407.5" font-size="11.6" fill="#505358" font-weight="bold" textLength="21" lengthAdjust="spacingAndGlyphs" clip-path="url(#c20a)">20A</text>
<text x="22.5" y="467.9" font-size="10.4" fill="#444" text-anchor="middle" stroke="#444" stroke-width="0.22">0</text>
<text x="239.6" y="467.9" font-size="10.4" fill="#444" text-anchor="middle" stroke="#444" stroke-width="0.22">50</text>
<text x="456.3" y="467.9" font-size="10.4" fill="#444" text-anchor="middle" stroke="#444" stroke-width="0.22">100</text>
<text x="673" y="467.9" font-size="10.4" fill="#444" text-anchor="middle" stroke="#444" stroke-width="0.22">150</text>
<text x="889.5" y="467.9" font-size="10.4" fill="#444" text-anchor="middle" stroke="#444" stroke-width="0.22">200</text>
<circle cx="474.5" cy="474.2" r="0.8" fill="#aaa"/>
<circle cx="480.5" cy="474.2" r="0.8" fill="#aaa"/>
<circle cx="501.5" cy="474.2" r="0.8" fill="#aaa"/>
<line x1="16" y1="499.5" x2="984" y2="499.5" stroke="#b4b4b4" stroke-width="1.2"/>
<text x="18.4" y="516.4" font-size="14.6" fill="#333" textLength="63.9" lengthAdjust="spacingAndGlyphs" stroke="#333" stroke-width="0.22">Phylogeny</text>
<text x="21.8" y="531" font-size="10.6" fill="#444" textLength="115.8" lengthAdjust="spacingAndGlyphs" stroke="#444" stroke-width="0.22">Nextclade Pango Lineage</text>
<path d="M138.4 528.6 L142.1 524.4 L145.8 528.6" fill="none" stroke="#1a1a1a" stroke-width="2.1"/>
<rect x="25.4" y="538.8" width="13.6" height="13.6" fill="#3b1ec6" stroke="#281486" stroke-width="1"/>
<text x="47" y="549.3" font-size="10.6" fill="#444" stroke="#444" stroke-width="0.22">B.1.617.2</text>
<rect x="25.4" y="555.4" width="13.6" height="13.6" fill="#2f2fe0" stroke="#1f1f98" stroke-width="1"/>
<text x="47" y="565.9" font-size="10.6" fill="#444" stroke="#444" stroke-width="0.22">BA.2</text>
<rect x="25.4" y="572" width="13.6" height="13.6" fill="#2f55f0" stroke="#1f39a3" stroke-width="1"/>
<text x="47" y="582.5" font-size="10.6" fill="#444" stroke="#444" stroke-width="0.22">BA.5.2</text>
<rect x="25.4" y="588.7" width="13.6" height="13.6" fill="#3b8cea" stroke="#285f9f" stroke-width="1"/>
<text x="47" y="599.2" font-size="10.6" fill="#444" stroke="#444" stroke-width="0.22">BA.2.75</text>
<rect x="25.4" y="605.3" width="13.6" height="13.6" fill="#4dbd8f" stroke="#348061" stroke-width="1"/>
<text x="47" y="615.8" font-size="10.6" fill="#444" stroke="#444" stroke-width="0.22">BA.2.38</text>
<rect x="25.4" y="621.9" width="13.6" height="13.6" fill="#55c27a" stroke="#398352" stroke-width="1"/>
<text x="47" y="632.4" font-size="10.6" fill="#444" stroke="#444" stroke-width="0.22">BA.4</text>
<rect x="25.4" y="638.5" width="13.6" height="13.6" fill="#5fc466" stroke="#408545" stroke-width="1"/>
<text x="47" y="649" font-size="10.6" fill="#444" stroke="#444" stroke-width="0.22">BM.1</text>
<rect x="25.4" y="655.1" width="13.6" height="13.6" fill="#d3da3e" stroke="#8f942a" stroke-width="1"/>
<text x="47" y="665.6" font-size="10.6" fill="#444" stroke="#444" stroke-width="0.22">BA.1.1</text>
<rect x="25.4" y="671.8" width="13.6" height="13.6" fill="#e8dc3a" stroke="#9d9527" stroke-width="1"/>
<text x="47" y="682.3" font-size="10.6" fill="#444" stroke="#444" stroke-width="0.22">BA.2.38.2</text>
<rect x="25.4" y="688.4" width="13.6" height="13.6" fill="#f7d736" stroke="#a79224" stroke-width="1"/>
<text x="47" y="698.9" font-size="10.6" fill="#444" stroke="#444" stroke-width="0.22">BA.2.75.2</text>
<rect x="25.4" y="705" width="13.6" height="13.6" fill="#f6c431" stroke="#a78521" stroke-width="1"/>
<text x="47" y="715.5" font-size="10.6" fill="#444" stroke="#444" stroke-width="0.22">BA.2.75.5</text>
<rect x="25.4" y="721.6" width="13.6" height="13.6" fill="#f2702b" stroke="#a44c1d" stroke-width="1"/>
<text x="47" y="732.1" font-size="10.6" fill="#444" stroke="#444" stroke-width="0.22">BM.2</text>
<rect x="25.4" y="738.2" width="13.6" height="13.6" fill="#ee2e22" stroke="#a11f17" stroke-width="1"/>
<text x="47" y="748.7" font-size="10.6" fill="#444" stroke="#444" stroke-width="0.22">AY.122</text>
<rect x="25.4" y="754.9" width="13.6" height="13.6" fill="#3a7ff0" stroke="#2756a3" stroke-width="1"/>
<text x="47" y="765.4" font-size="10.6" fill="#444" stroke="#444" stroke-width="0.22">BA.2.10.4</text>
<rect x="152.7" y="538.8" width="13.6" height="13.6" fill="#42aeae" stroke="#2c7676" stroke-width="1"/>
<text x="174" y="549.3" font-size="10.6" fill="#444" stroke="#444" stroke-width="0.22">BA.2.37</text>
<rect x="152.7" y="555.4" width="13.6" height="13.6" fill="#48b99a" stroke="#307d68" stroke-width="1"/>
<text x="174" y="565.9" font-size="10.6" fill="#444" stroke="#444" stroke-width="0.22">BA.2.38.3</text>
<rect x="152.7" y="572" width="13.6" height="13.6" fill="#4fbe86" stroke="#35815b" stroke-width="1"/>
<text x="174" y="582.5" font-size="10.6" fill="#444" stroke="#444" stroke-width="0.22">BA.2.43</text>
<rect x="152.7" y="588.7" width="13.6" height="13.6" fill="#58c470" stroke="#3b854c" stroke-width="1"/>
<text x="174" y="599.2" font-size="10.6" fill="#444" stroke="#444" stroke-width="0.22">BA.2.74</text>
<rect x="152.7" y="605.3" width="13.6" height="13.6" fill="#a6d63e" stroke="#70912a" stroke-width="1"/>
<text x="174" y="615.8" font-size="10.6" fill="#444" stroke="#444" stroke-width="0.22">BA.2.79.1</text>
<rect x="152.7" y="621.9" width="13.6" height="13.6" fill="#b7d843" stroke="#7c922d" stroke-width="1"/>
<text x="174" y="632.4" font-size="10.6" fill="#444" stroke="#444" stroke-width="0.22">BA.2.9</text>
<rect x="152.7" y="638.5" width="13.6" height="13.6" fill="#f5ad31" stroke="#a67521" stroke-width="1"/>
<text x="174" y="649" font-size="10.6" fill="#444" stroke="#444" stroke-width="0.22">BE.1</text>
<rect x="152.7" y="655.1" width="13.6" height="13.6" fill="#f06e2a" stroke="#a34a1c" stroke-width="1"/>
<text x="174" y="665.6" font-size="10.6" fill="#444" stroke="#444" stroke-width="0.22">BF.28</text>
<rect x="152.7" y="671.8" width="13.6" height="13.6" fill="#ef3322" stroke="#a22217" stroke-width="1"/>
<text x="174" y="682.3" font-size="10.6" fill="#444" stroke="#444" stroke-width="0.22">BH.1</text>
<rect x="152.7" y="688.4" width="13.6" height="13.6" fill="#e91c1c" stroke="#9e1313" stroke-width="1"/>
<text x="174" y="698.9" font-size="10.6" fill="#444" stroke="#444" stroke-width="0.22">BL.1</text>
<rect x="152.7" y="705" width="13.6" height="13.6" fill="#3a1fb2" stroke="#271579" stroke-width="1"/>
<text x="174" y="715.5" font-size="10.6" fill="#444" stroke="#444" stroke-width="0.22">BL.2</text>
<rect x="152.7" y="721.6" width="13.6" height="13.6" fill="#3222d0" stroke="#22178d" stroke-width="1"/>
<text x="174" y="732.1" font-size="10.6" fill="#444" stroke="#444" stroke-width="0.22">BL.4</text>
<rect x="152.7" y="738.2" width="13.6" height="13.6" fill="#3427de" stroke="#231a96" stroke-width="1"/>
<text x="174" y="748.7" font-size="10.6" fill="#444" stroke="#444" stroke-width="0.22">BM.1.1.3</text>
<rect x="152.7" y="754.9" width="13.6" height="13.6" fill="#3a62ef" stroke="#2742a2" stroke-width="1"/>
<text x="174" y="765.4" font-size="10.6" fill="#444" stroke="#444" stroke-width="0.22">BN.2</text>
<rect x="835.1" y="501" width="22.4" height="21.2" fill="#fff" stroke="#d4d4d4" stroke-width="1"/>
<line x1="835.6" y1="522.9" x2="857" y2="522.9" stroke="#ececec" stroke-width="1"/>
<circle cx="844.8" cy="510.4" r="3.8" fill="none" stroke="#999" stroke-width="1.4"/>
<line x1="847.4" y1="513" x2="850.3" y2="515.9" stroke="#999" stroke-width="1.9"/>
<line x1="842.9" y1="510.4" x2="846.7" y2="510.4" stroke="#999" stroke-width="1"/>
<rect x="861.5" y="501" width="114" height="21.2" fill="#fff" stroke="#d4d4d4" stroke-width="1" rx="1"/>
<line x1="862" y1="522.9" x2="975" y2="522.9" stroke="#ececec" stroke-width="1"/>
<text x="867.3" y="515" font-size="10.8" fill="#333" textLength="101.7" lengthAdjust="spacingAndGlyphs" stroke="#333" stroke-width="0.22">ZOOM TO SELECTED</text>
<path d="M986 501 H980.5 V521.7 H986" fill="none" stroke="#d4d4d4" stroke-width="1"/>
<clipPath id="ringclip"><rect x="325" y="527" width="500" height="436"/></clipPath>
<g clip-path="url(#ringclip)">
<circle cx="461" cy="750.5" r="7.4" fill="none" stroke="#e6e6e6" stroke-width="1.25"/>
<circle cx="461" cy="750.5" r="14.8" fill="none" stroke="#e6e6e6" stroke-width="1.25"/>
<circle cx="461" cy="750.5" r="22.3" fill="none" stroke="#e6e6e6" stroke-width="1.25"/>
<circle cx="461" cy="750.5" r="29.7" fill="none" stroke="#bdbdbd" stroke-width="2"/>
<circle cx="461" cy="750.5" r="37.1" fill="none" stroke="#e6e6e6" stroke-width="1.25"/>
<circle cx="461" cy="750.5" r="44.5" fill="none" stroke="#e6e6e6" stroke-width="1.25"/>
<circle cx="461" cy="750.5" r="51.9" fill="none" stroke="#e6e6e6" stroke-width="1.25"/>
<circle cx="461" cy="750.5" r="59.4" fill="none" stroke="#bdbdbd" stroke-width="2"/>
<circle cx="461" cy="750.5" r="66.8" fill="none" stroke="#e6e6e6" stroke-width="1.25"/>
<circle cx="461" cy="750.5" r="74.2" fill="none" stroke="#e6e6e6" stroke-width="1.25"/>
<circle cx="461" cy="750.5" r="81.6" fill="none" stroke="#e6e6e6" stroke-width="1.25"/>
<circle cx="461" cy="750.5" r="89" fill="none" stroke="#bdbdbd" stroke-width="2"/>
<circle cx="461" cy="750.5" r="96.5" fill="none" stroke="#e6e6e6" stroke-width="1.25"/>
<circle cx="461" cy="750.5" r="103.9" fill="none" stroke="#e6e6e6" stroke-width="1.25"/>
<circle cx="461" cy="750.5" r="111.3" fill="none" stroke="#e6e6e6" stroke-width="1.25"/>
<circle cx="461" cy="750.5" r="118.7" fill="none" stroke="#bdbdbd" stroke-width="2"/>
<circle cx="461" cy="750.5" r="126.1" fill="none" stroke="#e6e6e6" stroke-width="1.25"/>
<circle cx="461" cy="750.5" r="133.6" fill="none" stroke="#e6e6e6" stroke-width="1.25"/>
<circle cx="461" cy="750.5" r="141" fill="none" stroke="#e6e6e6" stroke-width="1.25"/>
<circle cx="461" cy="750.5" r="148.4" fill="none" stroke="#bdbdbd" stroke-width="2"/>
<circle cx="461" cy="750.5" r="155.8" fill="none" stroke="#e6e6e6" stroke-width="1.25"/>
<circle cx="461" cy="750.5" r="163.2" fill="none" stroke="#e6e6e6" stroke-width="1.25"/>
<circle cx="461" cy="750.5" r="170.7" fill="none" stroke="#e6e6e6" stroke-width="1.25"/>
<circle cx="461" cy="750.5" r="178.1" fill="none" stroke="#bdbdbd" stroke-width="2"/>
<circle cx="461" cy="750.5" r="185.5" fill="none" stroke="#e6e6e6" stroke-width="1.25"/>
<circle cx="461" cy="750.5" r="192.9" fill="none" stroke="#e6e6e6" stroke-width="1.25"/>
<circle cx="461" cy="750.5" r="200.3" fill="none" stroke="#e6e6e6" stroke-width="1.25"/>
<circle cx="461" cy="750.5" r="207.8" fill="none" stroke="#bdbdbd" stroke-width="2"/>
<circle cx="461" cy="750.5" r="215.2" fill="none" stroke="#e6e6e6" stroke-width="1.25"/>
<circle cx="461" cy="750.5" r="222.6" fill="none" stroke="#e6e6e6" stroke-width="1.25"/>
<circle cx="461" cy="750.5" r="230" fill="none" stroke="#e6e6e6" stroke-width="1.25"/>
<circle cx="461" cy="750.5" r="237.4" fill="none" stroke="#bdbdbd" stroke-width="2"/>
<circle cx="461" cy="750.5" r="244.9" fill="none" stroke="#e6e6e6" stroke-width="1.25"/>
<circle cx="461" cy="750.5" r="252.3" fill="none" stroke="#e6e6e6" stroke-width="1.25"/>
<circle cx="461" cy="750.5" r="259.7" fill="none" stroke="#e6e6e6" stroke-width="1.25"/>
<circle cx="461" cy="750.5" r="267.1" fill="none" stroke="#bdbdbd" stroke-width="2"/>
<circle cx="461" cy="750.5" r="274.5" fill="none" stroke="#e6e6e6" stroke-width="1.25"/>
<circle cx="461" cy="750.5" r="282" fill="none" stroke="#e6e6e6" stroke-width="1.25"/>
<circle cx="461" cy="750.5" r="289.4" fill="none" stroke="#e6e6e6" stroke-width="1.25"/>
</g>
<text x="462.5" y="776.9" font-size="10.2" fill="#444" text-anchor="end" stroke="#444" stroke-width="0.22">0</text>
<text x="462.5" y="806.5" font-size="10.2" fill="#444" text-anchor="end" stroke="#444" stroke-width="0.22">40</text>
<text x="462.5" y="836.2" font-size="10.2" fill="#444" text-anchor="end" stroke="#444" stroke-width="0.22">60</text>
<text x="462.5" y="865.8" font-size="10.2" fill="#444" text-anchor="end" stroke="#444" stroke-width="0.22">80</text>
<text x="462.5" y="895.4" font-size="10.2" fill="#444" text-anchor="end" stroke="#444" stroke-width="0.22">100</text>
<text x="462.5" y="925" font-size="10.2" fill="#444" text-anchor="end" stroke="#444" stroke-width="0.22">120</text>
<text x="462.5" y="954.7" font-size="10.2" fill="#444" text-anchor="end" stroke="#444" stroke-width="0.22">140</text>
<text x="462.5" y="984.3" font-size="10.2" fill="#444" text-anchor="end" stroke="#444" stroke-width="0.22">160</text>
<line x1="458" y1="756.1" x2="422" y2="836.8" stroke="#5fb07a" stroke-width="1" opacity="0.75"/>
<line x1="457.6" y1="755.9" x2="416.5" y2="832.1" stroke="#99b070" stroke-width="0.8" opacity="0.75"/>
<line x1="457.9" y1="756" x2="420.5" y2="835.8" stroke="#99b070" stroke-width="0.9" opacity="0.75"/>
<line x1="457.8" y1="756" x2="420.8" y2="833.2" stroke="#5fb07a" stroke-width="1.4" opacity="0.75"/>
<line x1="457.9" y1="756" x2="423.2" y2="830.8" stroke="#5fb07a" stroke-width="1.1" opacity="0.75"/>
<line x1="457.6" y1="755.9" x2="414.4" y2="835.3" stroke="#c08060" stroke-width="1.3" opacity="0.75"/>
<line x1="458.3" y1="756.2" x2="430.1" y2="834" stroke="#b9a06a" stroke-width="0.7" opacity="0.75"/>
<line x1="458.6" y1="756.3" x2="431.2" y2="846.9" stroke="#5fb07a" stroke-width="1.5" opacity="0.75"/>
<line x1="457.5" y1="755.8" x2="418.6" y2="823.6" stroke="#7aa0b0" stroke-width="0.7" opacity="0.75"/>
<line x1="458.2" y1="756.2" x2="429.7" y2="832.4" stroke="#5fb07a" stroke-width="0.9" opacity="0.75"/>
<line x1="458.2" y1="756.2" x2="426.4" y2="839.1" stroke="#99b070" stroke-width="1" opacity="0.75"/>
<line x1="458.4" y1="756.2" x2="433.2" y2="831.1" stroke="#5b62b0" stroke-width="0.9" opacity="0.75"/>
<line x1="457.9" y1="756" x2="420.5" y2="837.1" stroke="#6a70b8" stroke-width="0.7" opacity="0.75"/>
<line x1="458.5" y1="756.3" x2="431.3" y2="843.7" stroke="#5b62b0" stroke-width="0.7" opacity="0.75"/>
<line x1="458.3" y1="756.2" x2="430.9" y2="832.1" stroke="#b9a06a" stroke-width="1.2" opacity="0.75"/>
<line x1="458.2" y1="756.2" x2="426.1" y2="837.8" stroke="#7aa0b0" stroke-width="1.1" opacity="0.75"/>
<line x1="458.1" y1="756.1" x2="422.9" y2="841.7" stroke="#8a8fd0" stroke-width="0.7" opacity="0.75"/>
<line x1="458.1" y1="756.1" x2="425.7" y2="833.4" stroke="#7aa0b0" stroke-width="0.7" opacity="0.75"/>
<line x1="457.6" y1="755.9" x2="421.1" y2="824" stroke="#99b070" stroke-width="1.2" opacity="0.75"/>
<line x1="457.8" y1="756" x2="417" y2="839.2" stroke="#a8965c" stroke-width="1.4" opacity="0.75"/>
<line x1="457.8" y1="756" x2="419.9" y2="832.9" stroke="#6a70b8" stroke-width="1.4" opacity="0.75"/>
<line x1="457.6" y1="755.9" x2="417.8" y2="827.6" stroke="#5fb07a" stroke-width="1" opacity="0.75"/>
<line x1="458" y1="756.1" x2="426" y2="831.2" stroke="#d0a070" stroke-width="1.5" opacity="0.75"/>
<line x1="458.1" y1="756.1" x2="428.2" y2="827.5" stroke="#c08060" stroke-width="0.9" opacity="0.75"/>
<line x1="457.5" y1="755.9" x2="418.3" y2="825.6" stroke="#a8965c" stroke-width="1.4" opacity="0.75"/>
<line x1="458.3" y1="756.2" x2="425.3" y2="844.4" stroke="#d0a070" stroke-width="0.8" opacity="0.75"/>
<line x1="457.8" y1="756" x2="421.1" y2="830.8" stroke="#c08060" stroke-width="1" opacity="0.75"/>
<line x1="457.7" y1="755.9" x2="414.7" y2="839.1" stroke="#7aa0b0" stroke-width="1.3" opacity="0.75"/>
<line x1="457.9" y1="756.1" x2="422.6" y2="834.7" stroke="#5b62b0" stroke-width="0.8" opacity="0.75"/>
<line x1="458.5" y1="756.3" x2="434.2" y2="834.4" stroke="#d0a070" stroke-width="0.7" opacity="0.75"/>
<line x1="458.5" y1="756.3" x2="430.4" y2="844.4" stroke="#b9a06a" stroke-width="1.5" opacity="0.75"/>
<line x1="458.5" y1="756.3" x2="431.1" y2="845.9" stroke="#5b62b0" stroke-width="1.1" opacity="0.75"/>
<line x1="457.5" y1="755.8" x2="413" y2="833.2" stroke="#5b62b0" stroke-width="1.4" opacity="0.75"/>
<line x1="458.4" y1="756.3" x2="434.3" y2="829.8" stroke="#6a70b8" stroke-width="1.3" opacity="0.75"/>
<line x1="458.5" y1="756.3" x2="434.5" y2="830.2" stroke="#5b62b0" stroke-width="1.1" opacity="0.75"/>
<line x1="458.4" y1="756.2" x2="430.1" y2="838.5" stroke="#6a70b8" stroke-width="0.9" opacity="0.75"/>
<line x1="458.5" y1="756.3" x2="430.9" y2="845.2" stroke="#8a8fd0" stroke-width="1.4" opacity="0.75"/>
<line x1="457.5" y1="755.8" x2="412.9" y2="834.6" stroke="#5b62b0" stroke-width="1.3" opacity="0.75"/>
<line x1="458" y1="756.1" x2="426" y2="831.8" stroke="#7aa0b0" stroke-width="0.9" opacity="0.75"/>
<line x1="458.5" y1="756.3" x2="433.1" y2="835.3" stroke="#7aa0b0" stroke-width="0.9" opacity="0.75"/>
<line x1="457.8" y1="756" x2="421.2" y2="829.2" stroke="#6a70b8" stroke-width="1.1" opacity="0.75"/>
<line x1="457.7" y1="755.9" x2="419.7" y2="828.2" stroke="#a8965c" stroke-width="1" opacity="0.75"/>
<line x1="458.5" y1="756.3" x2="430.5" y2="843.3" stroke="#99b070" stroke-width="1" opacity="0.75"/>
<line x1="458.2" y1="756.2" x2="426.6" y2="840.7" stroke="#5b62b0" stroke-width="0.6" opacity="0.75"/>
<line x1="458.5" y1="756.3" x2="434.1" y2="835.7" stroke="#7aa0b0" stroke-width="1.3" opacity="0.75"/>
<line x1="458.3" y1="756.2" x2="429.2" y2="839.3" stroke="#5b62b0" stroke-width="1" opacity="0.75"/>
<line x1="457.9" y1="756.1" x2="421.9" y2="835.6" stroke="#5fb07a" stroke-width="0.8" opacity="0.75"/>
<line x1="458.6" y1="756.3" x2="435.8" y2="832.8" stroke="#5b62b0" stroke-width="0.9" opacity="0.75"/>
<line x1="458.5" y1="756.3" x2="429.9" y2="846.3" stroke="#c08060" stroke-width="0.9" opacity="0.75"/>
<line x1="457.7" y1="755.9" x2="422" y2="825" stroke="#b9a06a" stroke-width="1.2" opacity="0.75"/>
<line x1="458.5" y1="756.3" x2="434" y2="832.3" stroke="#c08060" stroke-width="1.2" opacity="0.75"/>
<line x1="457.8" y1="756" x2="416.6" y2="838.5" stroke="#8a8fd0" stroke-width="0.8" opacity="0.75"/>
<line x1="458.4" y1="756.2" x2="428.5" y2="844.2" stroke="#c08060" stroke-width="1.4" opacity="0.75"/>
<line x1="457.8" y1="756" x2="421.9" y2="829.8" stroke="#c08060" stroke-width="1.4" opacity="0.75"/>
<line x1="457.9" y1="756" x2="423.9" y2="829.8" stroke="#c08060" stroke-width="1.3" opacity="0.75"/>
<line x1="458.1" y1="756.1" x2="426.3" y2="834.1" stroke="#6a70b8" stroke-width="0.9" opacity="0.75"/>
<line x1="458.1" y1="756.1" x2="427.2" y2="832.1" stroke="#5b62b0" stroke-width="0.7" opacity="0.75"/>
<line x1="458.4" y1="756.2" x2="431.9" y2="834.8" stroke="#a8965c" stroke-width="1.4" opacity="0.75"/>
<line x1="458.5" y1="756.3" x2="433.6" y2="833.6" stroke="#a8965c" stroke-width="1.5" opacity="0.75"/>
<line x1="458.1" y1="756.1" x2="428.6" y2="830.1" stroke="#d0a070" stroke-width="1.1" opacity="0.75"/>
<line x1="457.7" y1="756" x2="419.3" y2="830.9" stroke="#6a70b8" stroke-width="1.4" opacity="0.75"/>
<line x1="458" y1="756.1" x2="424.7" y2="833.1" stroke="#d0a070" stroke-width="0.7" opacity="0.75"/>
<line x1="457.5" y1="755.9" x2="415.7" y2="829.8" stroke="#b9a06a" stroke-width="1.1" opacity="0.75"/>
<line x1="458.3" y1="756.2" x2="428.1" y2="837.5" stroke="#99b070" stroke-width="1" opacity="0.75"/>
<line x1="457.9" y1="756.1" x2="419.4" y2="841.3" stroke="#b9a06a" stroke-width="1" opacity="0.75"/>
<line x1="458.6" y1="756.3" x2="436.3" y2="833.2" stroke="#8a8fd0" stroke-width="0.9" opacity="0.75"/>
<line x1="457.7" y1="755.9" x2="414.3" y2="839" stroke="#5fb07a" stroke-width="1.3" opacity="0.75"/>
<line x1="458.4" y1="756.2" x2="431.1" y2="836.8" stroke="#b9a06a" stroke-width="0.8" opacity="0.75"/>
<line x1="458.1" y1="756.1" x2="425.8" y2="835.8" stroke="#7aa0b0" stroke-width="0.9" opacity="0.75"/>
<line x1="458.5" y1="756.3" x2="434.9" y2="830.2" stroke="#7aa0b0" stroke-width="0.8" opacity="0.75"/>
<line x1="457.9" y1="756" x2="425.4" y2="826.4" stroke="#d0a070" stroke-width="2.2" opacity="0.85"/>
<line x1="458" y1="756.1" x2="425.2" y2="830.6" stroke="#5fb07a" stroke-width="1.6" opacity="0.85"/>
<line x1="458.2" y1="756.2" x2="433.7" y2="818.8" stroke="#99b070" stroke-width="2.1" opacity="0.85"/>
<line x1="458.4" y1="756.2" x2="432.2" y2="831.1" stroke="#5b62b0" stroke-width="2" opacity="0.85"/>
<line x1="458" y1="756.1" x2="430" y2="821.8" stroke="#6a70b8" stroke-width="1.6" opacity="0.85"/>
<line x1="458" y1="756.1" x2="429.8" y2="822.4" stroke="#5fb07a" stroke-width="1.6" opacity="0.85"/>
<line x1="457.8" y1="756" x2="423.2" y2="824.7" stroke="#99b070" stroke-width="1.8" opacity="0.85"/>
<line x1="457.9" y1="756" x2="424.9" y2="827.2" stroke="#5fb07a" stroke-width="1.6" opacity="0.85"/>
<line x1="458.2" y1="756.2" x2="432" y2="822.7" stroke="#d0a070" stroke-width="1.5" opacity="0.85"/>
<line x1="458.3" y1="756.2" x2="428.8" y2="835.1" stroke="#5fb07a" stroke-width="1.3" opacity="0.85"/>
<line x1="458.3" y1="756.2" x2="429.9" y2="832.3" stroke="#7aa0b0" stroke-width="1.6" opacity="0.85"/>
<line x1="457.9" y1="756" x2="428" y2="820.1" stroke="#d0a070" stroke-width="1.2" opacity="0.85"/>
<line x1="458.3" y1="756.2" x2="429.2" y2="834.9" stroke="#c08060" stroke-width="1.7" opacity="0.85"/>
<line x1="458" y1="756.1" x2="429.3" y2="821.5" stroke="#a8965c" stroke-width="2.1" opacity="0.85"/>
<line x1="457.9" y1="756.1" x2="427.9" y2="822.8" stroke="#a8965c" stroke-width="2.2" opacity="0.85"/>
<line x1="457.8" y1="756" x2="424.2" y2="825.1" stroke="#c08060" stroke-width="1.7" opacity="0.85"/>
<line x1="458.2" y1="756.2" x2="430.9" y2="829" stroke="#6a70b8" stroke-width="1.2" opacity="0.85"/>
<line x1="458" y1="756.1" x2="429.9" y2="818.9" stroke="#7aa0b0" stroke-width="1.7" opacity="0.85"/>
<line x1="458.2" y1="756.2" x2="430.2" y2="828.2" stroke="#8a8fd0" stroke-width="2" opacity="0.85"/>
<line x1="458.1" y1="756.1" x2="427.1" y2="834" stroke="#a8965c" stroke-width="1.9" opacity="0.85"/>
<line x1="457.8" y1="756" x2="428.5" y2="816.5" stroke="#6a70b8" stroke-width="1.9" opacity="0.85"/>
<line x1="457.8" y1="756" x2="422.2" y2="828" stroke="#99b070" stroke-width="1.9" opacity="0.85"/>
<line x1="458" y1="756.1" x2="431.3" y2="818.1" stroke="#8a8fd0" stroke-width="1.8" opacity="0.85"/>
<line x1="457.9" y1="756" x2="424.5" y2="828.6" stroke="#d0a070" stroke-width="1.8" opacity="0.85"/>
<line x1="458" y1="756.1" x2="428.7" y2="823.6" stroke="#5b62b0" stroke-width="2" opacity="0.85"/>
<line x1="457.9" y1="756" x2="401.7" y2="877.7" stroke="#d09a60" stroke-width="0.8" opacity="0.85"/>
<line x1="458.1" y1="756.1" x2="406.2" y2="880.7" stroke="#c88a50" stroke-width="0.8" opacity="0.85"/>
<line x1="458" y1="756.1" x2="410.2" y2="866.1" stroke="#c08a60" stroke-width="0.8" opacity="0.85"/>
<line x1="457.8" y1="756" x2="410.9" y2="852.2" stroke="#c89060" stroke-width="0.8" opacity="0.85"/>
<line x1="457.2" y1="755.6" x2="389" y2="855.6" stroke="#7a70c0" stroke-width="0.8" opacity="0.85"/>
<line x1="457.1" y1="755.6" x2="388" y2="852.5" stroke="#8a80c8" stroke-width="0.8" opacity="0.85"/>
<line x1="457.4" y1="755.8" x2="402.3" y2="847.5" stroke="#99b070" stroke-width="0.8" opacity="0.85"/>
<line x1="457.4" y1="755.8" x2="393" y2="862.9" stroke="#c87060" stroke-width="0.8" opacity="0.85"/>
<line x1="455.4" y1="753.5" x2="401.2" y2="776.8" stroke="#6a70b8" stroke-width="1.3" opacity="0.7"/>
<line x1="455" y1="752" x2="401.1" y2="757.6" stroke="#8a8fd0" stroke-width="1.2" opacity="0.7"/>
<line x1="455" y1="751.8" x2="413.9" y2="754.5" stroke="#7aa0b0" stroke-width="1.2" opacity="0.7"/>
<line x1="455.3" y1="753.1" x2="405.3" y2="769.8" stroke="#a8965c" stroke-width="0.8" opacity="0.7"/>
<line x1="455.7" y1="754" x2="426.5" y2="771.3" stroke="#99b070" stroke-width="1.3" opacity="0.7"/>
<line x1="455.1" y1="752.3" x2="392" y2="763.2" stroke="#a8965c" stroke-width="0.6" opacity="0.7"/>
<line x1="455.6" y1="753.9" x2="412.3" y2="777.2" stroke="#8a8fd0" stroke-width="1" opacity="0.7"/>
<line x1="455.1" y1="752.6" x2="413.6" y2="762.2" stroke="#c08060" stroke-width="0.9" opacity="0.7"/>
<line x1="455.3" y1="753.1" x2="424.8" y2="763.5" stroke="#7aa0b0" stroke-width="0.7" opacity="0.7"/>
<line x1="455.5" y1="753.7" x2="404.3" y2="778.9" stroke="#6a70b8" stroke-width="1.4" opacity="0.7"/>
<line x1="455.2" y1="752.7" x2="412.1" y2="763.6" stroke="#99b070" stroke-width="1.2" opacity="0.7"/>
<line x1="455.1" y1="752.3" x2="406.1" y2="759.9" stroke="#d0a070" stroke-width="1.2" opacity="0.7"/>
<line x1="455.9" y1="754.3" x2="415.1" y2="781.8" stroke="#7aa0b0" stroke-width="0.8" opacity="0.7"/>
<line x1="455.4" y1="753.5" x2="399.4" y2="777.6" stroke="#b9a06a" stroke-width="1" opacity="0.7"/>
<line x1="455.1" y1="750.5" x2="429.2" y2="745.3" stroke="#6a70b8" stroke-width="0.6" opacity="0.7"/>
<line x1="455.3" y1="749.8" x2="425.8" y2="739" stroke="#5b62b0" stroke-width="1.2" opacity="0.7"/>
<line x1="455.3" y1="749.9" x2="424.9" y2="739.6" stroke="#c08060" stroke-width="1.4" opacity="0.7"/>
<line x1="455.3" y1="749.7" x2="430.3" y2="739.8" stroke="#8a8fd0" stroke-width="1.2" opacity="0.7"/>
<line x1="455" y1="751.1" x2="410.8" y2="747.8" stroke="#d0a070" stroke-width="1.2" opacity="0.7"/>
<line x1="455.2" y1="750.1" x2="412.3" y2="737.9" stroke="#c08060" stroke-width="0.7" opacity="0.7"/>
<line x1="455.1" y1="750.8" x2="438.7" y2="748.4" stroke="#a8965c" stroke-width="1.3" opacity="0.7"/>
<line x1="455" y1="750.8" x2="428.9" y2="747.4" stroke="#d0a070" stroke-width="0.8" opacity="0.7"/>
<line x1="455" y1="750.9" x2="429.3" y2="747.8" stroke="#b9a06a" stroke-width="1.3" opacity="0.7"/>
<line x1="455.2" y1="750.1" x2="414.8" y2="738" stroke="#d0a070" stroke-width="0.6" opacity="0.7"/>
<line x1="455.2" y1="750" x2="413.9" y2="736.9" stroke="#b9a06a" stroke-width="1" opacity="0.7"/>
<line x1="455.1" y1="750.5" x2="418.2" y2="743.1" stroke="#99b070" stroke-width="0.7" opacity="0.7"/>
<line x1="455.2" y1="750.3" x2="424.3" y2="742.5" stroke="#5fb07a" stroke-width="1.1" opacity="0.7"/>
<line x1="455.2" y1="750.1" x2="415.7" y2="738.3" stroke="#d0a070" stroke-width="1.3" opacity="0.7"/>
<line x1="455.2" y1="750" x2="413.1" y2="736.8" stroke="#5b62b0" stroke-width="1.3" opacity="0.7"/>
<line x1="455.2" y1="750.3" x2="412.9" y2="739.6" stroke="#7aa0b0" stroke-width="0.9" opacity="0.7"/>
<line x1="455" y1="751.1" x2="427.3" y2="749.2" stroke="#7aa0b0" stroke-width="0.6" opacity="0.7"/>
<line x1="455" y1="751.5" x2="426.6" y2="751.4" stroke="#d0a070" stroke-width="1.3" opacity="0.7"/>
<line x1="455.3" y1="749.9" x2="439.1" y2="744.5" stroke="#b9a06a" stroke-width="1.1" opacity="0.7"/>
<line x1="455" y1="751.2" x2="422.4" y2="749" stroke="#5b62b0" stroke-width="1.4" opacity="0.7"/>
<line x1="455" y1="751.5" x2="425.4" y2="751.3" stroke="#7aa0b0" stroke-width="1.2" opacity="0.7"/>
<line x1="455.3" y1="749.8" x2="433.5" y2="742.1" stroke="#99b070" stroke-width="0.9" opacity="0.7"/>
<line x1="455.2" y1="750.1" x2="427.8" y2="742.4" stroke="#a8965c" stroke-width="0.6" opacity="0.7"/>
<line x1="455.1" y1="750.5" x2="439.7" y2="747.6" stroke="#a8965c" stroke-width="1.2" opacity="0.7"/>
<line x1="455" y1="750.8" x2="438.3" y2="748.6" stroke="#6a70b8" stroke-width="0.6" opacity="0.7"/>
<line x1="447.5" y1="735.9" x2="424.8" y2="707.5" stroke="#a8965c" stroke-width="0.6" opacity="0.7"/>
<line x1="444.5" y1="738.9" x2="408.6" y2="709.6" stroke="#7aa0b0" stroke-width="0.6" opacity="0.7"/>
<line x1="443.3" y1="740.6" x2="417.8" y2="723.9" stroke="#8a8fd0" stroke-width="1" opacity="0.7"/>
<line x1="446.4" y1="736.8" x2="437.8" y2="727.5" stroke="#a8965c" stroke-width="1" opacity="0.7"/>
<line x1="441.9" y1="742.9" x2="397.8" y2="721.8" stroke="#99b070" stroke-width="1.1" opacity="0.7"/>
<line x1="443.7" y1="739.8" x2="410.7" y2="716.1" stroke="#d0a070" stroke-width="0.6" opacity="0.7"/>
<line x1="441.5" y1="743.8" x2="400.2" y2="726.6" stroke="#8a8fd0" stroke-width="0.6" opacity="0.7"/>
<line x1="444.4" y1="739" x2="416.7" y2="716.9" stroke="#7aa0b0" stroke-width="0.9" opacity="0.7"/>
<line x1="448.5" y1="735.1" x2="417.8" y2="691.4" stroke="#6a70b8" stroke-width="1.1" opacity="0.7"/>
<line x1="441.9" y1="743" x2="405.9" y2="726" stroke="#b9a06a" stroke-width="1.2" opacity="0.7"/>
<line x1="443.6" y1="740.1" x2="399.9" y2="709.6" stroke="#c08060" stroke-width="0.7" opacity="0.7"/>
<line x1="442.1" y1="742.5" x2="411.3" y2="727.1" stroke="#7aa0b0" stroke-width="0.5" opacity="0.7"/>
<line x1="448.8" y1="734.9" x2="434.1" y2="713.3" stroke="#5b62b0" stroke-width="0.5" opacity="0.7"/>
<line x1="446.4" y1="736.9" x2="436.5" y2="726.3" stroke="#a8965c" stroke-width="1.2" opacity="0.7"/>
<line x1="443.6" y1="740" x2="401.7" y2="710.6" stroke="#5fb07a" stroke-width="1.1" opacity="0.7"/>
<line x1="442.3" y1="742.2" x2="431.5" y2="736.5" stroke="#7aa0b0" stroke-width="1.2" opacity="0.7"/>
<line x1="441.8" y1="743.2" x2="429.9" y2="737.7" stroke="#c08060" stroke-width="0.8" opacity="0.7"/>
<line x1="441.8" y1="743.3" x2="428.8" y2="737.5" stroke="#7aa0b0" stroke-width="0.6" opacity="0.7"/>
<line x1="447.4" y1="735.9" x2="430" y2="714.3" stroke="#a8965c" stroke-width="0.5" opacity="0.7"/>
<line x1="443.6" y1="740" x2="410.9" y2="717.2" stroke="#5b62b0" stroke-width="1.3" opacity="0.7"/>
<line x1="449" y1="734.8" x2="440.2" y2="721.5" stroke="#c08060" stroke-width="1.1" opacity="0.7"/>
<line x1="443.7" y1="740" x2="434.3" y2="733.4" stroke="#a8965c" stroke-width="1" opacity="0.7"/>
<line x1="447.3" y1="736.1" x2="419.2" y2="702.2" stroke="#a8965c" stroke-width="0.5" opacity="0.7"/>
<line x1="449.3" y1="734.6" x2="420.9" y2="689.8" stroke="#7aa0b0" stroke-width="1.2" opacity="0.7"/>
<line x1="442.8" y1="741.3" x2="409.2" y2="721.2" stroke="#b9a06a" stroke-width="0.8" opacity="0.7"/>
<line x1="445.6" y1="737.6" x2="413.2" y2="706.2" stroke="#c08060" stroke-width="0.5" opacity="0.7"/>
<line x1="443.5" y1="740.2" x2="416.8" y2="721.8" stroke="#b9a06a" stroke-width="0.6" opacity="0.7"/>
<line x1="445.6" y1="737.7" x2="411.2" y2="704.8" stroke="#c08060" stroke-width="1.1" opacity="0.7"/>
<line x1="442.7" y1="741.4" x2="424" y2="730.5" stroke="#c08060" stroke-width="0.6" opacity="0.7"/>
<line x1="449.1" y1="734.7" x2="442.4" y2="724.5" stroke="#b9a06a" stroke-width="0.7" opacity="0.7"/>
<line x1="458.8" y1="741.6" x2="455.1" y2="710.5" stroke="#5fb07a" stroke-width="0.6" opacity="0.6"/>
<line x1="464.3" y1="742.5" x2="485.1" y2="698.3" stroke="#8a8fd0" stroke-width="0.6" opacity="0.6"/>
<line x1="464.8" y1="742.7" x2="475.3" y2="723.4" stroke="#b9a06a" stroke-width="1.1" opacity="0.6"/>
<line x1="462.3" y1="741.8" x2="466.5" y2="724.6" stroke="#b9a06a" stroke-width="1.1" opacity="0.6"/>
<line x1="459.2" y1="741.5" x2="457.2" y2="716.1" stroke="#d0a070" stroke-width="0.8" opacity="0.6"/>
<line x1="459.9" y1="741.5" x2="459.6" y2="694.8" stroke="#6a70b8" stroke-width="0.6" opacity="0.6"/>
<line x1="464.5" y1="742.5" x2="479.9" y2="711.6" stroke="#d0a070" stroke-width="1.1" opacity="0.6"/>
<line x1="460.5" y1="741.5" x2="462.9" y2="693.2" stroke="#6a70b8" stroke-width="1.2" opacity="0.6"/>
<line x1="457.4" y1="741.8" x2="445.4" y2="697.1" stroke="#c08060" stroke-width="0.6" opacity="0.6"/>
<line x1="459.9" y1="741.5" x2="459.6" y2="697.9" stroke="#c08060" stroke-width="1" opacity="0.6"/>
<line x1="456.7" y1="742.1" x2="446.8" y2="713.4" stroke="#8a8fd0" stroke-width="0.8" opacity="0.6"/>
<line x1="457.6" y1="741.8" x2="452" y2="719.1" stroke="#5fb07a" stroke-width="1.2" opacity="0.6"/>
<line x1="457.9" y1="741.7" x2="447.8" y2="693.9" stroke="#5fb07a" stroke-width="0.7" opacity="0.6"/>
<line x1="458.3" y1="741.6" x2="450.4" y2="695.6" stroke="#b9a06a" stroke-width="1.2" opacity="0.6"/>
<line x1="457.3" y1="741.9" x2="444.1" y2="694.8" stroke="#5b62b0" stroke-width="0.9" opacity="0.6"/>
<line x1="456.7" y1="742" x2="441.5" y2="698" stroke="#d0a070" stroke-width="0.6" opacity="0.6"/>
<line x1="460" y1="741.5" x2="460" y2="705.3" stroke="#b9a06a" stroke-width="0.5" opacity="0.6"/>
<line x1="457.9" y1="741.7" x2="450.3" y2="707.4" stroke="#8a8fd0" stroke-width="1.2" opacity="0.6"/>
<line x1="463.9" y1="742.3" x2="479.9" y2="704.2" stroke="#5b62b0" stroke-width="1.2" opacity="0.6"/>
<line x1="459.9" y1="741.5" x2="459.8" y2="721.8" stroke="#c08060" stroke-width="1.3" opacity="0.6"/>
<line x1="458" y1="751.4" x2="329.2" y2="744.6" stroke="#7aaab0" stroke-width="0.9" opacity="0.8"/>
<line x1="382" y1="850.5" x2="375.9" y2="858.3" stroke="#7aa0b0" stroke-width="0.8" opacity="0.8"/>
<line x1="381.5" y1="850" x2="376.1" y2="856.8" stroke="#6a70b8" stroke-width="0.8" opacity="0.8"/>
<line x1="386.7" y1="854" x2="382.8" y2="859.4" stroke="#7aa0b0" stroke-width="0.8" opacity="0.8"/>
<line x1="384.7" y1="852.5" x2="378.9" y2="860.4" stroke="#99b070" stroke-width="0.8" opacity="0.8"/>
<line x1="386.5" y1="853.9" x2="383.2" y2="858.5" stroke="#6a70b8" stroke-width="0.8" opacity="0.8"/>
<line x1="388.3" y1="855.1" x2="381.5" y2="864.9" stroke="#7aa0b0" stroke-width="0.8" opacity="0.8"/>
<line x1="381.4" y1="850" x2="377" y2="855.5" stroke="#7aa0b0" stroke-width="0.8" opacity="0.8"/>
<line x1="389.2" y1="855.7" x2="384.4" y2="862.8" stroke="#99b070" stroke-width="0.8" opacity="0.8"/>
<line x1="388.4" y1="855.2" x2="385.2" y2="859.9" stroke="#7aa0b0" stroke-width="0.8" opacity="0.8"/>
<line x1="383.8" y1="851.8" x2="378.8" y2="858.4" stroke="#6a70b8" stroke-width="0.8" opacity="0.8"/>
<line x1="388.9" y1="855.5" x2="382.7" y2="864.6" stroke="#99b070" stroke-width="0.8" opacity="0.8"/>
<line x1="381.1" y1="849.7" x2="375.2" y2="856.9" stroke="#99b070" stroke-width="0.8" opacity="0.8"/>
<line x1="383.7" y1="851.8" x2="380.8" y2="855.6" stroke="#99b070" stroke-width="0.8" opacity="0.8"/>
<line x1="385.1" y1="852.8" x2="378.5" y2="861.8" stroke="#7aa0b0" stroke-width="0.8" opacity="0.8"/>
<path d="M389.5 856 A126 126 0 0 1 379.9 848.7" fill="none" stroke="#6a70b8" stroke-width="1.2" opacity="1"/>
<line x1="440.1" y1="742.2" x2="391.1" y2="719.4" stroke="#5b62b0" stroke-width="5" opacity="1"/>
<line x1="421" y1="729" x2="389" y2="710.5" stroke="#7a70a8" stroke-width="2" opacity="1"/>
<path d="M440.1 742.2 A22 22 0 0 0 439.3 744" fill="none" stroke="#5b62b0" stroke-width="4" opacity="1"/>
<line x1="460" y1="751.5" x2="489.6" y2="698.1" stroke="#5b62b0" stroke-width="9.5" opacity="1"/>
<path d="M481.9 694.6 A61 61 0 0 1 500 705.5" fill="none" stroke="#5b62b0" stroke-width="9" opacity="1"/>
<line x1="494.3" y1="706" x2="506.9" y2="689.2" stroke="#5b62b0" stroke-width="9" opacity="1"/>
<path d="M501.3 685.4 A78 78 0 0 1 517 698.3" fill="none" stroke="#5b62b0" stroke-width="9" opacity="1"/>
<line x1="511.4" y1="698.3" x2="535.7" y2="673.1" stroke="#5b62b0" stroke-width="9" opacity="1"/>
<circle cx="460" cy="751.5" r="4.5" fill="#5b62b0"/>
<path d="M481 699 L487.5 676 L502 677" fill="none" stroke="#aaa05e" stroke-width="5.5" stroke-linejoin="miter"/>
<path d="M486 690 L495 688" fill="none" stroke="#aaa05e" stroke-width="2.5"/>
<line x1="532" y1="676" x2="550" y2="657" stroke="#6d8fa8" stroke-width="3"/>
<line x1="498.5" y1="679.1" x2="503.2" y2="670.3" stroke="#c0a070" stroke-width="2" opacity="1"/>
<line x1="545.2" y1="678.8" x2="550.6" y2="674.2" stroke="#b9a06a" stroke-width="1.1" opacity="0.6"/>
<line x1="547" y1="680.9" x2="554.7" y2="674.6" stroke="#7aa0b0" stroke-width="1" opacity="0.6"/>
<line x1="537.6" y1="670.8" x2="544.3" y2="663.8" stroke="#8a8fd0" stroke-width="0.8" opacity="0.6"/>
<line x1="541.5" y1="674.7" x2="551.5" y2="665.3" stroke="#99b070" stroke-width="0.8" opacity="0.6"/>
<line x1="535" y1="668.3" x2="542.3" y2="660.2" stroke="#5fb07a" stroke-width="0.9" opacity="0.6"/>
<line x1="533.6" y1="667.1" x2="540.9" y2="658.6" stroke="#7aa0b0" stroke-width="0.6" opacity="0.6"/>
<line x1="537.3" y1="670.5" x2="545.9" y2="661.4" stroke="#8a8fd0" stroke-width="1.1" opacity="0.6"/>
<line x1="542.4" y1="675.7" x2="553.3" y2="665.6" stroke="#6a70b8" stroke-width="0.8" opacity="0.6"/>
<line x1="514.9" y1="662" x2="521.7" y2="650.9" stroke="#7a8ab0" stroke-width="2" opacity="1"/>
<path d="M512.8 656.2 A109 109 0 0 1 564.8 781.5" fill="none" stroke="#5b62b0" stroke-width="8" opacity="1"/>
<line x1="564.8" y1="721.5" x2="590.7" y2="714" stroke="#7896a6" stroke-width="4.5" opacity="1"/>
<path d="M584.3 698.8 A135 135 0 0 1 594.3 765.6" fill="none" stroke="#7896a6" stroke-width="6" opacity="1"/>
<line x1="557.7" y1="700.9" x2="752.1" y2="600.1" stroke="#5b8e8e" stroke-width="4.3" opacity="1"/>
<line x1="567.7" y1="768.6" x2="598.3" y2="773.4" stroke="#6fa07a" stroke-width="3.5" opacity="1"/>
<line x1="565.8" y1="777.9" x2="579.3" y2="781.3" stroke="#a8915c" stroke-width="4.5" opacity="1"/>
<path d="M578.9 778.9 A122 122 0 0 1 531.7 850.2" fill="none" stroke="#a8915c" stroke-width="5" opacity="1"/>
<line x1="565.3" y1="779.7" x2="569.1" y2="780.7" stroke="#5b62b0" stroke-width="9" opacity="1"/>
<path d="M535.5 851.7 A125.5 125.5 0 0 1 464.4 876.9" fill="none" stroke="#5b62b0" stroke-width="5.5" opacity="1"/>
<path d="M534.6 854.2 A127 127 0 0 1 519.6 863.6" fill="none" stroke="#5b62b0" stroke-width="7" opacity="1"/>
<path d="M508.3 871.1 A129 129 0 0 1 482.4 878.5" fill="none" stroke="#5b62b0" stroke-width="6" opacity="1"/>
<line x1="529.4" y1="847" x2="535.2" y2="855.1" stroke="#a8915c" stroke-width="4.5" opacity="1"/>
<line x1="538.1" y1="847.8" x2="544" y2="855" stroke="#5b62b0" stroke-width="0.9" opacity="0.6"/>
<line x1="573.6" y1="801.3" x2="580" y2="804.1" stroke="#5fb07a" stroke-width="1.1" opacity="0.6"/>
<line x1="539.9" y1="846.3" x2="542.4" y2="849.3" stroke="#5fb07a" stroke-width="1.3" opacity="0.6"/>
<line x1="571.3" y1="806.1" x2="577.1" y2="808.9" stroke="#7aa0b0" stroke-width="1.1" opacity="0.6"/>
<line x1="533.5" y1="851.3" x2="535.4" y2="853.9" stroke="#c08060" stroke-width="0.9" opacity="0.6"/>
<line x1="576.1" y1="795" x2="579" y2="796" stroke="#7aa0b0" stroke-width="1" opacity="0.6"/>
<line x1="580.2" y1="782" x2="587.7" y2="783.9" stroke="#7aa0b0" stroke-width="1.2" opacity="0.6"/>
<line x1="561.1" y1="823.4" x2="564" y2="825.4" stroke="#5fb07a" stroke-width="0.8" opacity="0.6"/>
<line x1="579.8" y1="783.6" x2="582.7" y2="784.4" stroke="#7aa0b0" stroke-width="0.6" opacity="0.6"/>
<line x1="566.3" y1="815.4" x2="573.3" y2="819.6" stroke="#99b070" stroke-width="1.1" opacity="0.6"/>
<line x1="551.5" y1="835.2" x2="559.1" y2="842.2" stroke="#b9a06a" stroke-width="1.1" opacity="0.6"/>
<line x1="545.4" y1="841.4" x2="551" y2="847.3" stroke="#99b070" stroke-width="0.9" opacity="0.6"/>
<line x1="573.9" y1="800.5" x2="578.2" y2="802.4" stroke="#b9a06a" stroke-width="1" opacity="0.6"/>
<line x1="575.2" y1="797.5" x2="583.4" y2="800.8" stroke="#d0a070" stroke-width="0.7" opacity="0.6"/>
<line x1="539.8" y1="846.4" x2="545.3" y2="852.9" stroke="#5b62b0" stroke-width="0.7" opacity="0.6"/>
<line x1="567.6" y1="813.2" x2="570.4" y2="814.8" stroke="#6a70b8" stroke-width="1.1" opacity="0.6"/>
<line x1="574" y1="800.2" x2="577" y2="801.5" stroke="#d0a070" stroke-width="0.7" opacity="0.6"/>
<line x1="568.5" y1="811.6" x2="577.5" y2="816.6" stroke="#8a8fd0" stroke-width="0.8" opacity="0.6"/>
<line x1="571.3" y1="806.2" x2="576.1" y2="808.5" stroke="#8a8fd0" stroke-width="0.9" opacity="0.6"/>
<line x1="574.2" y1="799.8" x2="585.1" y2="804.4" stroke="#5b62b0" stroke-width="0.6" opacity="0.6"/>
<line x1="533.8" y1="851.2" x2="536.7" y2="855.1" stroke="#99b070" stroke-width="1.3" opacity="0.6"/>
<line x1="547" y1="839.9" x2="552.6" y2="845.6" stroke="#99b070" stroke-width="0.6" opacity="0.6"/>
<line x1="571.3" y1="806.2" x2="579.2" y2="810.1" stroke="#5b62b0" stroke-width="1" opacity="0.6"/>
<line x1="569.6" y1="809.4" x2="575.7" y2="812.7" stroke="#5b62b0" stroke-width="1" opacity="0.6"/>
<line x1="577.4" y1="791.5" x2="580.4" y2="792.6" stroke="#5b62b0" stroke-width="0.7" opacity="0.6"/>
<line x1="549.2" y1="837.6" x2="554" y2="842.3" stroke="#d0a070" stroke-width="0.8" opacity="0.6"/>
<line x1="561.9" y1="822.2" x2="568.5" y2="826.7" stroke="#7aa0b0" stroke-width="0.8" opacity="0.6"/>
<line x1="548.2" y1="838.7" x2="555.6" y2="846" stroke="#a8965c" stroke-width="1" opacity="0.6"/>
<line x1="572" y1="804.8" x2="583.9" y2="810.4" stroke="#5fb07a" stroke-width="1.1" opacity="0.6"/>
<line x1="578.9" y1="786.7" x2="583.4" y2="788.1" stroke="#5fb07a" stroke-width="1" opacity="0.6"/>
<line x1="570.7" y1="807.3" x2="576.1" y2="810.1" stroke="#6a70b8" stroke-width="1.1" opacity="0.6"/>
<line x1="574.3" y1="799.5" x2="581.1" y2="802.4" stroke="#a8965c" stroke-width="1.2" opacity="0.6"/>
<line x1="569.9" y1="809" x2="582.4" y2="815.5" stroke="#b9a06a" stroke-width="1" opacity="0.6"/>
<line x1="544.5" y1="842.2" x2="551.3" y2="849.6" stroke="#7aa0b0" stroke-width="1" opacity="0.6"/>
<line x1="565.8" y1="816.1" x2="576.1" y2="822.4" stroke="#d0a070" stroke-width="1" opacity="0.6"/>
<line x1="552.6" y1="834" x2="555.8" y2="836.8" stroke="#a8965c" stroke-width="1.3" opacity="0.6"/>
<line x1="572.7" y1="803.1" x2="585.1" y2="808.7" stroke="#d0a070" stroke-width="1" opacity="0.6"/>
<line x1="579" y1="786.2" x2="586.9" y2="788.5" stroke="#d0a070" stroke-width="0.8" opacity="0.6"/>
<line x1="575.1" y1="797.6" x2="578.1" y2="798.8" stroke="#5b62b0" stroke-width="1.2" opacity="0.6"/>
<line x1="568.5" y1="811.6" x2="571.3" y2="813.2" stroke="#5b62b0" stroke-width="1.1" opacity="0.6"/>
<line x1="575.8" y1="795.8" x2="588.9" y2="800.9" stroke="#d0a070" stroke-width="0.7" opacity="0.6"/>
<line x1="565.6" y1="816.5" x2="576.5" y2="823.2" stroke="#5fb07a" stroke-width="0.7" opacity="0.6"/>
<line x1="561.9" y1="822.1" x2="569.9" y2="827.7" stroke="#a8965c" stroke-width="1" opacity="0.6"/>
<line x1="577.4" y1="791.4" x2="580.6" y2="792.5" stroke="#d0a070" stroke-width="0.8" opacity="0.6"/>
<line x1="578.2" y1="788.9" x2="590.9" y2="792.9" stroke="#b9a06a" stroke-width="0.6" opacity="0.6"/>
<line x1="555.2" y1="830.9" x2="558.9" y2="834" stroke="#5fb07a" stroke-width="0.8" opacity="0.6"/>
<line x1="554" y1="832.3" x2="557.2" y2="835.1" stroke="#8a8fd0" stroke-width="1" opacity="0.6"/>
<line x1="577.3" y1="791.6" x2="580.4" y2="792.7" stroke="#b9a06a" stroke-width="0.7" opacity="0.6"/>
<line x1="574.6" y1="798.8" x2="583.8" y2="802.5" stroke="#b9a06a" stroke-width="1.3" opacity="0.6"/>
<line x1="568.5" y1="811.6" x2="573.5" y2="814.4" stroke="#99b070" stroke-width="1.2" opacity="0.6"/>
<line x1="572.1" y1="804.5" x2="583.4" y2="809.9" stroke="#5b62b0" stroke-width="1.2" opacity="0.6"/>
<line x1="576.6" y1="793.7" x2="589" y2="798.2" stroke="#8a8fd0" stroke-width="0.7" opacity="0.6"/>
<line x1="563.3" y1="820.1" x2="569.6" y2="824.3" stroke="#5b62b0" stroke-width="1.1" opacity="0.6"/>
<line x1="573.6" y1="801.2" x2="582.9" y2="805.3" stroke="#d0a070" stroke-width="1.1" opacity="0.6"/>
<line x1="554.6" y1="831.7" x2="559" y2="835.4" stroke="#b9a06a" stroke-width="0.6" opacity="0.6"/>
<line x1="569.6" y1="809.5" x2="575.4" y2="812.6" stroke="#8a8fd0" stroke-width="1.1" opacity="0.6"/>
<line x1="580" y1="782.8" x2="589.1" y2="785.2" stroke="#99b070" stroke-width="1.3" opacity="0.6"/>
<line x1="552.1" y1="834.5" x2="556.9" y2="838.8" stroke="#8a8fd0" stroke-width="0.6" opacity="0.6"/>
<line x1="549.3" y1="837.5" x2="551.5" y2="839.6" stroke="#6a70b8" stroke-width="1.1" opacity="0.6"/>
<line x1="577.3" y1="791.7" x2="585.8" y2="794.6" stroke="#99b070" stroke-width="1.2" opacity="0.6"/>
<line x1="556.5" y1="829.3" x2="561" y2="832.9" stroke="#5fb07a" stroke-width="0.9" opacity="0.6"/>
<line x1="576.2" y1="794.8" x2="581" y2="796.6" stroke="#7aa0b0" stroke-width="1.1" opacity="0.6"/>
<line x1="578.1" y1="789.2" x2="591.2" y2="793.3" stroke="#a8965c" stroke-width="0.8" opacity="0.6"/>
<line x1="564.3" y1="818.6" x2="567.6" y2="820.7" stroke="#6a70b8" stroke-width="0.8" opacity="0.6"/>
<line x1="567.8" y1="812.8" x2="577.4" y2="818.3" stroke="#6a70b8" stroke-width="0.9" opacity="0.6"/>
<line x1="570.6" y1="807.5" x2="577.2" y2="810.9" stroke="#a8965c" stroke-width="0.6" opacity="0.6"/>
<line x1="576.5" y1="794.1" x2="588.5" y2="798.5" stroke="#b9a06a" stroke-width="0.7" opacity="0.6"/>
<line x1="572.6" y1="803.4" x2="575.8" y2="804.8" stroke="#99b070" stroke-width="1.1" opacity="0.6"/>
<line x1="554.3" y1="832" x2="565.2" y2="841.3" stroke="#6a70b8" stroke-width="0.7" opacity="0.6"/>
<line x1="573" y1="802.6" x2="581.9" y2="806.7" stroke="#6a70b8" stroke-width="0.8" opacity="0.6"/>
<line x1="463.3" y1="879.5" x2="463.5" y2="887.1" stroke="#c08060" stroke-width="1.2" opacity="0.6"/>
<line x1="498.4" y1="873.6" x2="499.8" y2="877.8" stroke="#c08060" stroke-width="0.9" opacity="0.6"/>
<line x1="505" y1="871.3" x2="507.8" y2="878.9" stroke="#d0a070" stroke-width="1.3" opacity="0.6"/>
<line x1="487.2" y1="876.6" x2="489.3" y2="886.5" stroke="#5fb07a" stroke-width="1.1" opacity="0.6"/>
<line x1="511" y1="868.9" x2="513.3" y2="874.2" stroke="#8a8fd0" stroke-width="1.3" opacity="0.6"/>
<line x1="511.4" y1="868.7" x2="516.4" y2="880.2" stroke="#5b62b0" stroke-width="0.8" opacity="0.6"/>
<line x1="504.4" y1="871.6" x2="506.4" y2="877" stroke="#8a8fd0" stroke-width="1.2" opacity="0.6"/>
<line x1="529.8" y1="858.8" x2="532.6" y2="863" stroke="#6a70b8" stroke-width="1" opacity="0.6"/>
<line x1="510.7" y1="869" x2="512.1" y2="872.2" stroke="#c08060" stroke-width="1.2" opacity="0.6"/>
<line x1="502.1" y1="872.4" x2="504.7" y2="879.7" stroke="#b9a06a" stroke-width="1.1" opacity="0.6"/>
<line x1="490" y1="875.9" x2="492.9" y2="887.9" stroke="#5fb07a" stroke-width="1.2" opacity="0.6"/>
<line x1="530.1" y1="858.6" x2="534.2" y2="865" stroke="#5b62b0" stroke-width="1.2" opacity="0.6"/>
<line x1="503.5" y1="871.9" x2="506.4" y2="879.8" stroke="#99b070" stroke-width="1.1" opacity="0.6"/>
<line x1="501.1" y1="872.7" x2="504.5" y2="882.7" stroke="#a8965c" stroke-width="1.2" opacity="0.6"/>
<line x1="462.8" y1="879.5" x2="463" y2="886.7" stroke="#8a8fd0" stroke-width="0.8" opacity="0.6"/>
<line x1="463.1" y1="879.5" x2="463.2" y2="885.3" stroke="#5b62b0" stroke-width="1.2" opacity="0.6"/>
<line x1="464.3" y1="879.4" x2="464.4" y2="884.3" stroke="#7aa0b0" stroke-width="0.8" opacity="0.6"/>
<line x1="490.3" y1="875.9" x2="492.1" y2="883.7" stroke="#7aa0b0" stroke-width="1.3" opacity="0.6"/>
<line x1="523.9" y1="862.4" x2="525.9" y2="865.8" stroke="#d0a070" stroke-width="1.2" opacity="0.6"/>
<line x1="524.8" y1="861.9" x2="527.6" y2="866.8" stroke="#c08060" stroke-width="1" opacity="0.6"/>
<line x1="476.5" y1="878.4" x2="477.1" y2="882.9" stroke="#c08060" stroke-width="0.7" opacity="0.6"/>
<line x1="485.3" y1="877" x2="487" y2="885.1" stroke="#5fb07a" stroke-width="0.9" opacity="0.6"/>
<line x1="510.9" y1="869" x2="513.4" y2="874.9" stroke="#b9a06a" stroke-width="1.1" opacity="0.6"/>
<line x1="510.2" y1="869.2" x2="512" y2="873.6" stroke="#b9a06a" stroke-width="0.9" opacity="0.6"/>
<line x1="465.4" y1="879.4" x2="465.8" y2="889.3" stroke="#b9a06a" stroke-width="0.7" opacity="0.6"/>
<line x1="468.5" y1="879.2" x2="469" y2="886.8" stroke="#8a8fd0" stroke-width="1" opacity="0.6"/>
<line x1="467.6" y1="879.3" x2="467.9" y2="883.8" stroke="#5fb07a" stroke-width="0.9" opacity="0.6"/>
<line x1="516.4" y1="866.4" x2="518.8" y2="871.3" stroke="#b9a06a" stroke-width="0.6" opacity="0.6"/>
<line x1="512.8" y1="868.1" x2="514.9" y2="872.7" stroke="#a8965c" stroke-width="1.1" opacity="0.6"/>
<line x1="532.1" y1="857.3" x2="535.1" y2="861.7" stroke="#d0a070" stroke-width="1.2" opacity="0.6"/>
<line x1="501.3" y1="872.7" x2="502.6" y2="876.4" stroke="#6a70b8" stroke-width="0.6" opacity="0.6"/>
<line x1="481" y1="877.8" x2="482" y2="883.5" stroke="#b9a06a" stroke-width="0.6" opacity="0.6"/>
<line x1="516" y1="866.6" x2="518.8" y2="872.3" stroke="#5b62b0" stroke-width="1.1" opacity="0.6"/>
<line x1="522.5" y1="863.2" x2="525" y2="867.7" stroke="#8a8fd0" stroke-width="0.9" opacity="0.6"/>
<line x1="522.9" y1="863" x2="526.6" y2="869.6" stroke="#6a70b8" stroke-width="1.1" opacity="0.6"/>
<line x1="478" y1="878.2" x2="478.9" y2="884.1" stroke="#8a8fd0" stroke-width="0.8" opacity="0.6"/>
<line x1="519.6" y1="864.8" x2="521.3" y2="867.9" stroke="#c08060" stroke-width="0.8" opacity="0.6"/>
<line x1="502.2" y1="872.3" x2="505.1" y2="880.4" stroke="#c08060" stroke-width="0.9" opacity="0.6"/>
<line x1="499.7" y1="873.2" x2="501.1" y2="877.6" stroke="#99b070" stroke-width="0.9" opacity="0.6"/>
<line x1="473.1" y1="878.8" x2="474.4" y2="891.2" stroke="#7aa0b0" stroke-width="0.7" opacity="0.6"/>
<line x1="491.8" y1="875.5" x2="494.8" y2="887" stroke="#d0a070" stroke-width="0.8" opacity="0.6"/>
<line x1="512.3" y1="868.3" x2="513.8" y2="871.6" stroke="#5b62b0" stroke-width="0.8" opacity="0.6"/>
<line x1="533.4" y1="856.4" x2="540.1" y2="866" stroke="#8a8fd0" stroke-width="0.8" opacity="0.6"/>
<line x1="472.1" y1="878.9" x2="473.2" y2="889.6" stroke="#d0a070" stroke-width="0.6" opacity="0.6"/>
<line x1="512" y1="868.4" x2="514.2" y2="873.4" stroke="#a8965c" stroke-width="0.7" opacity="0.6"/>
<line x1="491" y1="875.7" x2="492.2" y2="880.5" stroke="#c08060" stroke-width="1.3" opacity="0.6"/>
<line x1="503.9" y1="871.7" x2="506.3" y2="878.1" stroke="#b9a06a" stroke-width="1.3" opacity="0.6"/>
<line x1="524" y1="862.4" x2="530.4" y2="873.5" stroke="#5b62b0" stroke-width="0.8" opacity="0.6"/>
<line x1="489.7" y1="876" x2="491.2" y2="882.5" stroke="#7aa0b0" stroke-width="1" opacity="0.6"/>
<line x1="527" y1="860.6" x2="531.2" y2="867.4" stroke="#c08060" stroke-width="0.9" opacity="0.6"/>
<line x1="529.3" y1="859.1" x2="532.8" y2="864.5" stroke="#a8965c" stroke-width="1.2" opacity="0.6"/>
<line x1="495.7" y1="874.4" x2="496.6" y2="877.6" stroke="#7aa0b0" stroke-width="1.3" opacity="0.6"/>
<line x1="496.9" y1="874.1" x2="499.2" y2="881.7" stroke="#c08060" stroke-width="1.2" opacity="0.6"/>
<line x1="473.9" y1="878.7" x2="474.8" y2="886.9" stroke="#c08060" stroke-width="0.9" opacity="0.6"/>
<line x1="525.8" y1="861.3" x2="531.9" y2="871.4" stroke="#7aa0b0" stroke-width="0.7" opacity="0.6"/>
<line x1="526.2" y1="861" x2="532" y2="870.5" stroke="#5fb07a" stroke-width="1.2" opacity="0.6"/>
<line x1="509.3" y1="869.6" x2="510.7" y2="872.9" stroke="#5b62b0" stroke-width="1" opacity="0.6"/>
<line x1="466.9" y1="879.3" x2="467.4" y2="887.4" stroke="#99b070" stroke-width="0.8" opacity="0.6"/>
<line x1="516.3" y1="866.5" x2="518.9" y2="871.8" stroke="#c08060" stroke-width="1" opacity="0.6"/>
<line x1="522.7" y1="863.1" x2="528.2" y2="872.9" stroke="#c08060" stroke-width="0.9" opacity="0.6"/>
<line x1="590.5" y1="713.3" x2="595.1" y2="712" stroke="#7aa0b0" stroke-width="1.1" opacity="0.8"/>
<line x1="595.5" y1="739.8" x2="613" y2="738.3" stroke="#5b62b0" stroke-width="0.8" opacity="0.8"/>
<line x1="595.7" y1="760.3" x2="602" y2="760.7" stroke="#a8965c" stroke-width="0.8" opacity="0.8"/>
<line x1="595.5" y1="763.6" x2="613.6" y2="765.2" stroke="#b9a06a" stroke-width="1" opacity="0.8"/>
<line x1="592.7" y1="721.8" x2="602.8" y2="719.5" stroke="#6a70b8" stroke-width="1.3" opacity="0.8"/>
<line x1="596" y1="749.9" x2="604" y2="749.8" stroke="#99b070" stroke-width="0.9" opacity="0.8"/>
<line x1="592.1" y1="719.3" x2="597.8" y2="717.9" stroke="#8a8fd0" stroke-width="0.6" opacity="0.8"/>
<line x1="588.3" y1="706.3" x2="601.7" y2="701.5" stroke="#5b62b0" stroke-width="0.7" opacity="0.8"/>
<line x1="591.6" y1="717.2" x2="609" y2="712.6" stroke="#7aa0b0" stroke-width="1" opacity="0.8"/>
<line x1="587.6" y1="704.5" x2="599.2" y2="700.2" stroke="#6a70b8" stroke-width="1.3" opacity="0.8"/>
<line x1="590.9" y1="714.7" x2="606" y2="710.5" stroke="#7aa0b0" stroke-width="0.7" opacity="0.8"/>
<line x1="595.9" y1="746.8" x2="601.7" y2="746.6" stroke="#99b070" stroke-width="0.9" opacity="0.8"/>
<line x1="595" y1="734.7" x2="604.9" y2="733.5" stroke="#8a8fd0" stroke-width="1.3" opacity="0.8"/>
<line x1="588.3" y1="706.3" x2="601.4" y2="701.7" stroke="#5b62b0" stroke-width="1.2" opacity="0.8"/>
<line x1="595.8" y1="759.2" x2="612.9" y2="760.1" stroke="#c08060" stroke-width="0.7" opacity="0.8"/>
<line x1="587.3" y1="703.6" x2="601" y2="698.4" stroke="#7aa0b0" stroke-width="1.4" opacity="0.8"/>
<line x1="588.9" y1="708.1" x2="603.7" y2="703.2" stroke="#99b070" stroke-width="0.8" opacity="0.8"/>
<line x1="595.4" y1="739.2" x2="612.1" y2="737.7" stroke="#8a8fd0" stroke-width="0.6" opacity="0.8"/>
<line x1="595.6" y1="741.3" x2="607.6" y2="740.4" stroke="#99b070" stroke-width="0.7" opacity="0.8"/>
<line x1="595.3" y1="765.3" x2="606.2" y2="766.4" stroke="#6a70b8" stroke-width="0.7" opacity="0.8"/>
<line x1="591.1" y1="715.3" x2="606" y2="711.1" stroke="#a8965c" stroke-width="1" opacity="0.8"/>
<line x1="590.2" y1="712.2" x2="595.3" y2="710.7" stroke="#c08060" stroke-width="1.3" opacity="0.8"/>
<line x1="596" y1="752.8" x2="610.7" y2="753" stroke="#b9a06a" stroke-width="0.7" opacity="0.8"/>
<line x1="593.1" y1="723.4" x2="598.9" y2="722.2" stroke="#b9a06a" stroke-width="1" opacity="0.8"/>
<line x1="593" y1="723.1" x2="607.4" y2="720" stroke="#99b070" stroke-width="1" opacity="0.8"/>
<line x1="595.8" y1="743.5" x2="610.5" y2="742.6" stroke="#5fb07a" stroke-width="0.7" opacity="0.8"/>
<line x1="586.6" y1="701.7" x2="594.9" y2="698.4" stroke="#c08060" stroke-width="1.4" opacity="0.8"/>
<line x1="590.3" y1="712.6" x2="594.5" y2="711.4" stroke="#99b070" stroke-width="1.2" opacity="0.8"/>
<line x1="596" y1="750.8" x2="611.7" y2="750.7" stroke="#5b62b0" stroke-width="0.8" opacity="0.8"/>
<line x1="591.3" y1="715.9" x2="598" y2="714.1" stroke="#8a8fd0" stroke-width="1.3" opacity="0.8"/>
<line x1="595.6" y1="741.4" x2="599.8" y2="741" stroke="#99b070" stroke-width="1.1" opacity="0.8"/>
<line x1="595.4" y1="764.5" x2="600" y2="764.9" stroke="#7aa0b0" stroke-width="1" opacity="0.8"/>
<line x1="590.3" y1="712.6" x2="596.2" y2="710.8" stroke="#d0a070" stroke-width="1.4" opacity="0.8"/>
<line x1="595.7" y1="760.6" x2="610" y2="761.6" stroke="#a8965c" stroke-width="1.1" opacity="0.8"/>
<line x1="586.2" y1="700.8" x2="591.8" y2="698.6" stroke="#d0a070" stroke-width="0.9" opacity="0.8"/>
<line x1="589.4" y1="709.6" x2="601.5" y2="705.7" stroke="#5b62b0" stroke-width="1.4" opacity="0.8"/>
<line x1="595" y1="734.7" x2="611.6" y2="732.6" stroke="#a8965c" stroke-width="1.4" opacity="0.8"/>
<line x1="587.5" y1="704.3" x2="596.1" y2="701.1" stroke="#a8965c" stroke-width="1.3" opacity="0.8"/>
<line x1="594.2" y1="729.7" x2="609.7" y2="727.2" stroke="#b9a06a" stroke-width="1.3" opacity="0.8"/>
<line x1="595.5" y1="762.9" x2="611.5" y2="764.2" stroke="#7aa0b0" stroke-width="1.1" opacity="0.8"/>
<line x1="547.7" y1="685.2" x2="555.7" y2="679.2" stroke="#6a70b8" stroke-width="1.2" opacity="0.7"/>
<line x1="560.9" y1="707.7" x2="574.5" y2="701.8" stroke="#7aa0b0" stroke-width="0.9" opacity="0.7"/>
<line x1="551.1" y1="689.8" x2="558.3" y2="684.9" stroke="#c08060" stroke-width="1" opacity="0.7"/>
<line x1="556.4" y1="698.5" x2="571.6" y2="690.2" stroke="#d0a070" stroke-width="0.7" opacity="0.7"/>
<line x1="561.2" y1="708.4" x2="571.6" y2="704" stroke="#7aa0b0" stroke-width="1.2" opacity="0.7"/>
<line x1="541" y1="677.1" x2="545.8" y2="672.7" stroke="#b9a06a" stroke-width="0.9" opacity="0.7"/>
<line x1="557.1" y1="699.7" x2="574.2" y2="690.6" stroke="#b9a06a" stroke-width="1.1" opacity="0.7"/>
<line x1="555.9" y1="697.6" x2="565.4" y2="692.3" stroke="#5fb07a" stroke-width="1.3" opacity="0.7"/>
<line x1="563" y1="713" x2="571.9" y2="709.7" stroke="#d0a070" stroke-width="0.8" opacity="0.7"/>
<line x1="539.6" y1="675.6" x2="547.8" y2="667.9" stroke="#d0a070" stroke-width="0.6" opacity="0.7"/>
<line x1="553.1" y1="692.9" x2="562.7" y2="686.8" stroke="#6a70b8" stroke-width="1" opacity="0.7"/>
<line x1="563.3" y1="713.7" x2="578.8" y2="708" stroke="#6a70b8" stroke-width="0.8" opacity="0.7"/>
<line x1="538.3" y1="674.2" x2="546.4" y2="666.2" stroke="#5fb07a" stroke-width="0.8" opacity="0.7"/>
<line x1="550.2" y1="688.5" x2="562.6" y2="679.8" stroke="#99b070" stroke-width="1" opacity="0.7"/>
<line x1="552.8" y1="692.5" x2="559.1" y2="688.5" stroke="#5fb07a" stroke-width="0.9" opacity="0.7"/>
<line x1="548.4" y1="686" x2="560.3" y2="677.1" stroke="#8a8fd0" stroke-width="1.3" opacity="0.7"/>
<line x1="543.2" y1="679.6" x2="551.7" y2="672.3" stroke="#8a8fd0" stroke-width="0.9" opacity="0.7"/>
<line x1="549.5" y1="687.6" x2="560.8" y2="679.5" stroke="#a8965c" stroke-width="1.2" opacity="0.7"/>
<line x1="549.3" y1="687.2" x2="556.2" y2="682.2" stroke="#b9a06a" stroke-width="1.2" opacity="0.7"/>
<line x1="546.9" y1="684" x2="556.7" y2="676.4" stroke="#8a8fd0" stroke-width="0.7" opacity="0.7"/>
<line x1="546.6" y1="683.7" x2="555.9" y2="676.5" stroke="#b9a06a" stroke-width="0.7" opacity="0.7"/>
<line x1="559.7" y1="705.1" x2="573.2" y2="698.9" stroke="#99b070" stroke-width="1" opacity="0.7"/>
<line x1="563" y1="712.9" x2="581.5" y2="706" stroke="#6a70b8" stroke-width="0.7" opacity="0.7"/>
<line x1="561.1" y1="708.2" x2="578.1" y2="701" stroke="#6a70b8" stroke-width="0.9" opacity="0.7"/>
<line x1="554.1" y1="694.6" x2="561.7" y2="690" stroke="#b9a06a" stroke-width="0.8" opacity="0.7"/>
<line x1="558.1" y1="701.8" x2="570.9" y2="695.3" stroke="#6a70b8" stroke-width="1.3" opacity="0.7"/>
<line x1="545.4" y1="682.2" x2="553.2" y2="675.9" stroke="#c08060" stroke-width="1" opacity="0.7"/>
<line x1="555.5" y1="696.9" x2="566.7" y2="690.5" stroke="#5b62b0" stroke-width="0.9" opacity="0.7"/>
<line x1="545" y1="681.6" x2="558.4" y2="670.6" stroke="#6a70b8" stroke-width="1" opacity="0.7"/>
<line x1="550" y1="688.3" x2="557.6" y2="682.9" stroke="#a8965c" stroke-width="1.2" opacity="0.7"/>
<text x="605.6" y="697.6" font-size="7.6" fill="#222" textLength="165.2" lengthAdjust="spacingAndGlyphs" stroke="#222" stroke-width="0.3">2019-nCoV_MN908947_GDMCSEQ22_9361_new</text>
<text x="602.1" y="697" font-size="7.6" fill="#222" textLength="161.3" lengthAdjust="spacingAndGlyphs" stroke="#222" stroke-width="0.3">2019-nCoV_MN908947_GDMCSEQ22_10164_new</text>
<text x="600.2" y="689.6" font-size="7.6" fill="#222" textLength="163.1" lengthAdjust="spacingAndGlyphs" stroke="#222" stroke-width="0.3">2019-nCoV_MN908947_GDMCSEQ22_9620_new</text>
<text x="603.3" y="703.3" font-size="7.6" fill="#222" textLength="162.4" lengthAdjust="spacingAndGlyphs" stroke="#222" stroke-width="0.3">2019-nCoV_MN908947_GDMCSEQ22_10415_new</text>
<text x="603" y="702.8" font-size="7.6" fill="#222" textLength="162" lengthAdjust="spacingAndGlyphs" stroke="#222" stroke-width="0.3">2019-nCoV_MN908947_GDMCSEQ22_9579_new</text>
<text x="599.6" y="701.7" font-size="7.6" fill="#222" textLength="160.4" lengthAdjust="spacingAndGlyphs" stroke="#222" stroke-width="0.3">2019-nCoV_MN908947_GDMCSEQ22_9193_new</text>
<text x="602.4" y="694.8" font-size="7.6" fill="#222" textLength="165.7" lengthAdjust="spacingAndGlyphs" stroke="#222" stroke-width="0.3">2019-nCoV_MN908947_GDMCSEQ22_10683_new</text>
<text x="598.5" y="708.8" font-size="7.6" fill="#222" textLength="162.3" lengthAdjust="spacingAndGlyphs" stroke="#222" stroke-width="0.3">2019-nCoV_MN908947_GDMCSEQ22_9977_new</text>
<text x="600.7" y="698.9" font-size="7.6" fill="#222" textLength="160.8" lengthAdjust="spacingAndGlyphs" stroke="#222" stroke-width="0.3">2019-nCoV_MN908947_GDMCSEQ22_10530_new</text>
<text x="598.7" y="694.4" font-size="7.6" fill="#222" textLength="164" lengthAdjust="spacingAndGlyphs" stroke="#222" stroke-width="0.3">2019-nCoV_MN908947_GDMCSEQ22_10672_new</text>
<text x="607.9" y="703" font-size="7.6" fill="#222" textLength="164.4" lengthAdjust="spacingAndGlyphs" stroke="#222" stroke-width="0.3">2019-nCoV_MN908947_GDMCSEQ22_10422_new</text>
<text x="607.1" y="704.1" font-size="7.6" fill="#222" textLength="162" lengthAdjust="spacingAndGlyphs" stroke="#222" stroke-width="0.3">2019-nCoV_MN908947_GDMCSEQ22_10700_new</text>
<text x="604.4" y="698.8" font-size="7.6" fill="#222" textLength="164.8" lengthAdjust="spacingAndGlyphs" stroke="#222" stroke-width="0.3">2019-nCoV_MN908947_GDMCSEQ22_9308_new</text>
<text x="604.4" y="694.1" font-size="7.6" fill="#222" textLength="164.8" lengthAdjust="spacingAndGlyphs" stroke="#222" stroke-width="0.3">2019-nCoV_MN908947_GDMCSEQ22_10400_new</text>
<text x="606.6" y="709.3" font-size="7.6" fill="#222" textLength="165.8" lengthAdjust="spacingAndGlyphs" stroke="#222" stroke-width="0.3">2019-nCoV_MN908947_GDMCSEQ22_10510_new</text>
<text x="600.2" y="690.3" font-size="7.6" fill="#222" textLength="161.3" lengthAdjust="spacingAndGlyphs" stroke="#222" stroke-width="0.3">2019-nCoV_MN908947_GDMCSEQ22_9029_new</text>
<text x="606.5" y="701" font-size="7.6" fill="#222" textLength="163.3" lengthAdjust="spacingAndGlyphs" stroke="#222" stroke-width="0.3">2019-nCoV_MN908947_GDMCSEQ22_9576_new</text>
<text x="603" y="709.3" font-size="7.6" fill="#222" textLength="161.2" lengthAdjust="spacingAndGlyphs" stroke="#222" stroke-width="0.3">2019-nCoV_MN908947_GDMCSEQ22_9228_new</text>
<text x="599.6" y="696.6" font-size="7.6" fill="#222" textLength="161.3" lengthAdjust="spacingAndGlyphs" stroke="#222" stroke-width="0.3">2019-nCoV_MN908947_GDMCSEQ22_10467_new</text>
<text x="604.1" y="690.6" font-size="7.6" fill="#222" textLength="160.3" lengthAdjust="spacingAndGlyphs" stroke="#222" stroke-width="0.3">2019-nCoV_MN908947_GDMCSEQ22_10276_new</text>
<text x="607.4" y="729" font-size="7.6" fill="#222" textLength="178.7" lengthAdjust="spacingAndGlyphs" stroke="#222" stroke-width="0.3">2019-nCoV_MN908947_GDMCSEQ22_10505_new</text>
<text x="612.2" y="734.8" font-size="7.6" fill="#222" textLength="165.9" lengthAdjust="spacingAndGlyphs" stroke="#222" stroke-width="0.3">2019-nCoV_MN908947_GDMCSEQ22_10321_new</text>
<text x="606.7" y="722.4" font-size="7.6" fill="#222" textLength="168.7" lengthAdjust="spacingAndGlyphs" stroke="#222" stroke-width="0.3">2019-nCoV_MN908947_GDMCSEQ22_9365_new</text>
<text x="612.3" y="732.4" font-size="7.6" fill="#222" textLength="163.9" lengthAdjust="spacingAndGlyphs" stroke="#222" stroke-width="0.3">2019-nCoV_MN908947_GDMCSEQ22_10721_new</text>
<text x="606.6" y="737.1" font-size="7.6" fill="#222" textLength="169.7" lengthAdjust="spacingAndGlyphs" stroke="#222" stroke-width="0.3">2019-nCoV_MN908947_GDMCSEQ22_9537_new</text>
<text x="616" y="737" font-size="7.6" fill="#222" textLength="175" lengthAdjust="spacingAndGlyphs" stroke="#222" stroke-width="0.3">2019-nCoV_MN908947_GDMCSEQ22_10614_new</text>
<text x="609" y="716.1" font-size="7.6" fill="#222" textLength="160.7" lengthAdjust="spacingAndGlyphs" stroke="#222" stroke-width="0.3">2019-nCoV_MN908947|GDMCSEQ22_10881_new</text>
<text x="612" y="752.9" font-size="7.6" fill="#222" textLength="158" lengthAdjust="spacingAndGlyphs" stroke="#222" stroke-width="0.3">2019-nCoV_MN908947|GDMCSEQ22_10851_new</text>
<text x="611" y="756.9" font-size="7.6" fill="#222" textLength="160" lengthAdjust="spacingAndGlyphs" stroke="#222" stroke-width="0.3">2019-nCoV_MN908947|GDMCSEQ22_10946_new</text>
<text x="612" y="757.9" font-size="7.6" fill="#222" textLength="159" lengthAdjust="spacingAndGlyphs" stroke="#222" stroke-width="0.3">2019-nCoV_MN908947|GDMCSEQ22_10949_new</text>
<text x="611" y="761.9" font-size="7.6" fill="#222" textLength="160" lengthAdjust="spacingAndGlyphs" stroke="#222" stroke-width="0.3">2019-nCoV_MN908947|GDMCSEQ22_10968_new</text>
<text x="604" y="772" font-size="7.6" fill="#222" textLength="158.8" lengthAdjust="spacingAndGlyphs" stroke="#222" stroke-width="0.3">2019-nCoV_MN908947_GDMCSEQ22_9698_new</text>
<text x="584.6" y="824" font-size="7.6" fill="#222" textLength="157.9" lengthAdjust="spacingAndGlyphs" stroke="#222" stroke-width="0.3">2019-nCoV_MN908947_GDMCSEQ22_9704_new</text>
<text x="546" y="865.4" font-size="7.6" fill="#222" textLength="162" lengthAdjust="spacingAndGlyphs" stroke="#222" stroke-width="0.3">2019-nCoV_MN908947|GDMCSEQ22_10886_new</text>
<text x="512" y="879.7" font-size="7.6" fill="#222" textLength="161.7" lengthAdjust="spacingAndGlyphs" stroke="#222" stroke-width="0.3">2019-nCoV_MN908947_GDMCSEQ22_10117_new</text>
<text x="515" y="883.3" font-size="7.6" fill="#222" textLength="165.9" lengthAdjust="spacingAndGlyphs" stroke="#222" stroke-width="0.3">2019-nCoV_MN908947_GDMCSEQ22_10111_new</text>
<text x="511" y="886.8" font-size="7.6" fill="#222" textLength="160.4" lengthAdjust="spacingAndGlyphs" stroke="#222" stroke-width="0.3">2019-nCoV_MN908947_GDMCSEQ22_9718_new</text>
<text x="563" y="657.8" font-size="7.6" fill="#222" textLength="155.4" lengthAdjust="spacingAndGlyphs" stroke="#222" stroke-width="0.3">2019-nCoV_MN908947|GDMCSEQ22_10897_new</text>
<text x="531" y="658.9" font-size="7.6" fill="#222" textLength="165" lengthAdjust="spacingAndGlyphs" stroke="#222" stroke-width="0.3">2019-nCoV_MN908947_GDMCSEQ22_10927_new</text>
<text x="535" y="657.4" font-size="7.6" fill="#222" textLength="165" lengthAdjust="spacingAndGlyphs" stroke="#222" stroke-width="0.3">2019-nCoV_MN908947_GDMCSEQ22_10833_new</text>
<text x="526" y="668.8" font-size="7.6" fill="#222" textLength="128" lengthAdjust="spacingAndGlyphs" stroke="#222" stroke-width="0.3">2019-nCoV_MN908947_Sample22_9482_new</text>
<text x="555.4" y="676.4" font-size="7.6" fill="#222" textLength="157.1" lengthAdjust="spacingAndGlyphs" stroke="#222" stroke-width="0.3">2019-nCoV_MN908947_GDMCSEQ22_9656_new</text>
<text x="411.9" y="715.9" font-size="7.6" fill="#222" textLength="121.7" lengthAdjust="spacingAndGlyphs" stroke="#222" stroke-width="0.3">2019-nCoV_MN908947|Sample 4_new</text>
<text x="399" y="721.9" font-size="7.6" fill="#222" textLength="122.2" lengthAdjust="spacingAndGlyphs" stroke="#222" stroke-width="0.3">2019-nCoV_MN908947|Sample 7_new</text>
<text x="759" y="601" font-size="7.6" fill="#222" textLength="145" lengthAdjust="spacingAndGlyphs" stroke="#222" stroke-width="0.3">2019-nCoV_MN908947_Sample22_9187_new</text>
<circle cx="752" cy="600" r="4" fill="#48b0ac" stroke="#3d9592" stroke-width="0.8"/>
<circle cx="516.5" cy="658.6" r="4" fill="#3030e0" stroke="#2828be" stroke-width="0.8"/>
<circle cx="524.8" cy="656.6" r="4" fill="#4dbd8f" stroke="#41a079" stroke-width="0.8"/>
<circle cx="549.7" cy="656.6" r="4" fill="#3a7ff0" stroke="#316bcc" stroke-width="0.8"/>
<circle cx="547.2" cy="674.9" r="4" fill="#b7d843" stroke="#9bb738" stroke-width="0.8"/>
<circle cx="502.9" cy="667.9" r="4" fill="#c8d840" stroke="#aab736" stroke-width="0.8"/>
<circle cx="559.7" cy="698" r="4" fill="#2f2fe0" stroke="#2727be" stroke-width="0.8"/>
<circle cx="563.8" cy="694" r="4" fill="#2f55f0" stroke="#2748cc" stroke-width="0.8"/>
<circle cx="570.5" cy="690.6" r="4" fill="#2f2fe0" stroke="#2727be" stroke-width="0.8"/>
<circle cx="574.6" cy="689" r="4" fill="#2f55f0" stroke="#2748cc" stroke-width="0.8"/>
<circle cx="568.8" cy="698" r="4" fill="#55c27a" stroke="#48a467" stroke-width="0.8"/>
<circle cx="576.3" cy="697.3" r="4" fill="#a6d63e" stroke="#8db534" stroke-width="0.8"/>
<circle cx="571.3" cy="703" r="4" fill="#42aeae" stroke="#389393" stroke-width="0.8"/>
<circle cx="576.3" cy="704" r="4" fill="#f7d736" stroke="#d1b62d" stroke-width="0.8"/>
<circle cx="593.7" cy="692.8" r="4" fill="#4fbe86" stroke="#43a171" stroke-width="0.8"/>
<circle cx="601" cy="701.5" r="4" fill="#3b8cea" stroke="#3277c6" stroke-width="0.8"/>
<circle cx="602.4" cy="691.3" r="4" fill="#ee2e22" stroke="#ca271c" stroke-width="0.8"/>
<circle cx="592.9" cy="707.2" r="4" fill="#3b8cea" stroke="#3277c6" stroke-width="0.8"/>
<circle cx="597.9" cy="703.9" r="4" fill="#3b8cea" stroke="#3277c6" stroke-width="0.8"/>
<circle cx="601" cy="713.7" r="4" fill="#3222d0" stroke="#2a1cb0" stroke-width="0.8"/>
<circle cx="599" cy="718.3" r="4" fill="#ee2e22" stroke="#ca271c" stroke-width="0.8"/>
<circle cx="609" cy="723.4" r="4" fill="#f6c431" stroke="#d1a629" stroke-width="0.8"/>
<circle cx="617" cy="723.4" r="4" fill="#f7d736" stroke="#d1b62d" stroke-width="0.8"/>
<circle cx="601.6" cy="731" r="4" fill="#f6c431" stroke="#d1a629" stroke-width="0.8"/>
<circle cx="605.5" cy="731" r="4" fill="#f7d736" stroke="#d1b62d" stroke-width="0.8"/>
<circle cx="612.6" cy="733.7" r="4" fill="#2f55f0" stroke="#2748cc" stroke-width="0.8"/>
<circle cx="603" cy="753" r="4" fill="#f2702b" stroke="#cd5f24" stroke-width="0.8"/>
<circle cx="604" cy="755" r="4" fill="#55c27a" stroke="#48a467" stroke-width="0.8"/>
<circle cx="604" cy="759.4" r="4" fill="#2f2fe0" stroke="#2727be" stroke-width="0.8"/>
<circle cx="597.1" cy="770" r="4" fill="#55c27a" stroke="#48a467" stroke-width="0.8"/>
<circle cx="577.1" cy="822.2" r="4" fill="#f5ad31" stroke="#d09329" stroke-width="0.8"/>
<circle cx="539.1" cy="863.6" r="4" fill="#f05a28" stroke="#cc4c22" stroke-width="0.8"/>
<circle cx="503.9" cy="877.5" r="4" fill="#2f55f0" stroke="#2748cc" stroke-width="0.8"/>
<circle cx="510.8" cy="881.6" r="4" fill="#2f55f0" stroke="#2748cc" stroke-width="0.8"/>
<circle cx="506" cy="885" r="4" fill="#2f55f0" stroke="#2748cc" stroke-width="0.8"/>
<circle cx="404.8" cy="713.6" r="4" fill="#ee2e22" stroke="#ca271c" stroke-width="0.8"/>
<circle cx="391.4" cy="719" r="4" fill="#3222d0" stroke="#2a1cb0" stroke-width="0.8"/>
<text x="450.7" y="671" font-size="12.4" fill="#505358" font-weight="bold" textLength="77" lengthAdjust="spacingAndGlyphs">21L (Omicron)</text>
<text x="401.6" y="694" font-size="12.4" fill="#505358" font-weight="bold" textLength="81.4" lengthAdjust="spacingAndGlyphs">21M (Omicron)</text>
<text x="502.4" y="712.2" font-size="12.4" fill="#505358" font-weight="bold" textLength="80.6" lengthAdjust="spacingAndGlyphs">22D (Omicron)</text>
<text x="489.9" y="791" font-size="12.4" fill="#505358" font-weight="bold" textLength="79.7" lengthAdjust="spacingAndGlyphs">22B (Omicron)</text>
<text x="355.8" y="726.6" font-size="12.4" fill="#505358" font-weight="bold" textLength="59" lengthAdjust="spacingAndGlyphs">21J (Delta)</text>
<text x="366.9" y="739.7" font-size="12.4" fill="#505358" font-weight="bold" textLength="62.1" lengthAdjust="spacingAndGlyphs">21A (Delta)</text>
<text x="432.4" y="736" font-size="12.4" fill="#505358" font-weight="bold" textLength="21.3" lengthAdjust="spacingAndGlyphs">20B</text>
<text x="430.8" y="749.5" font-size="12.4" fill="#505358" font-weight="bold" textLength="22.2" lengthAdjust="spacingAndGlyphs">20A</text>
</svg>
</body></html>
